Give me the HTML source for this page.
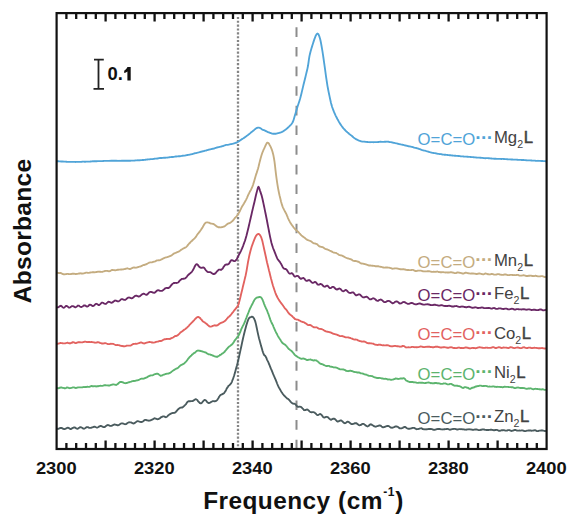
<!DOCTYPE html>
<html><head><meta charset="utf-8"><style>
html,body{margin:0;padding:0;background:#fff;width:567px;height:521px;overflow:hidden}
svg{display:block;font-family:"Liberation Sans",sans-serif}
</style></head><body>
<svg width="567" height="521" viewBox="0 0 567 521">
<rect width="567" height="521" fill="#fff"/>
<line x1="238.0" y1="16.9" x2="238.0" y2="448.0" stroke="#858585" stroke-width="2.3" stroke-dasharray="2.1,1.75"/>
<line x1="296.5" y1="27.3" x2="296.5" y2="449.0" stroke="#8c8c8c" stroke-width="2" stroke-dasharray="9.6,10.04"/>
<path d="M57.0,161.21 L57.5,161.22 L58.0,161.28 L58.5,161.20 L59.0,161.30 L59.5,161.33 L60.0,161.40 L60.5,161.40 L61.0,161.55 L61.5,161.47 L62.0,161.51 L62.5,161.52 L63.0,161.59 L63.5,161.54 L64.0,161.63 L64.5,161.64 L65.0,161.68 L65.5,161.68 L66.0,161.71 L66.5,161.77 L67.0,161.84 L67.5,161.88 L68.0,161.90 L68.5,161.93 L69.0,161.91 L69.5,161.87 L70.0,161.86 L70.5,161.86 L71.0,161.87 L71.5,161.87 L72.0,161.88 L72.5,161.87 L73.0,161.83 L73.5,161.85 L74.0,161.83 L74.5,161.85 L75.0,161.92 L75.5,161.96 L76.0,161.94 L76.5,161.94 L77.0,161.89 L77.5,161.88 L78.0,161.85 L78.5,161.82 L79.0,161.84 L79.5,161.91 L80.0,161.85 L80.5,161.85 L81.0,161.87 L81.5,161.83 L82.0,161.72 L82.5,161.69 L83.0,161.65 L83.5,161.64 L84.0,161.66 L84.5,161.71 L85.0,161.71 L85.5,161.72 L86.0,161.67 L86.5,161.66 L87.0,161.63 L87.5,161.60 L88.0,161.57 L88.5,161.57 L89.0,161.55 L89.5,161.56 L90.0,161.61 L90.5,161.54 L91.0,161.48 L91.5,161.41 L92.0,161.35 L92.5,161.29 L93.0,161.33 L93.5,161.29 L94.0,161.28 L94.5,161.28 L95.0,161.24 L95.5,161.23 L96.0,161.27 L96.5,161.25 L97.0,161.22 L97.5,161.20 L98.0,161.17 L98.5,161.16 L99.0,161.13 L99.5,161.12 L100.0,161.09 L100.5,161.10 L101.0,161.12 L101.5,161.13 L102.0,161.09 L102.5,161.05 L103.0,161.01 L103.5,160.96 L104.0,160.93 L104.5,160.93 L105.0,160.92 L105.5,160.91 L106.0,160.88 L106.5,160.91 L107.0,160.91 L107.5,160.94 L108.0,160.87 L108.5,160.88 L109.0,160.86 L109.5,160.81 L110.0,160.78 L110.5,160.80 L111.0,160.75 L111.5,160.73 L112.0,160.78 L112.5,160.76 L113.0,160.77 L113.5,160.77 L114.0,160.75 L114.5,160.68 L115.0,160.73 L115.5,160.73 L116.0,160.77 L116.5,160.75 L117.0,160.83 L117.5,160.86 L118.0,160.79 L118.5,160.83 L119.0,160.90 L119.5,160.87 L120.0,160.77 L120.5,160.85 L121.0,160.81 L121.5,160.74 L122.0,160.69 L122.5,160.74 L123.0,160.74 L123.5,160.72 L124.0,160.75 L124.5,160.75 L125.0,160.76 L125.5,160.73 L126.0,160.74 L126.5,160.71 L127.0,160.77 L127.5,160.76 L128.0,160.76 L128.5,160.77 L129.0,160.76 L129.5,160.74 L130.0,160.72 L130.5,160.71 L131.0,160.68 L131.5,160.59 L132.0,160.59 L132.5,160.64 L133.0,160.61 L133.5,160.60 L134.0,160.65 L134.5,160.59 L135.0,160.50 L135.5,160.43 L136.0,160.40 L136.5,160.35 L137.0,160.33 L137.5,160.29 L138.0,160.31 L138.5,160.29 L139.0,160.31 L139.5,160.27 L140.0,160.31 L140.5,160.20 L141.0,160.15 L141.5,160.10 L142.0,160.13 L142.5,160.01 L143.0,160.02 L143.5,159.98 L144.0,159.95 L144.5,159.81 L145.0,159.79 L145.5,159.73 L146.0,159.64 L146.5,159.56 L147.0,159.53 L147.5,159.49 L148.0,159.45 L148.5,159.41 L149.0,159.36 L149.5,159.30 L150.0,159.21 L150.5,159.16 L151.0,159.15 L151.5,159.09 L152.0,159.09 L152.5,159.06 L153.0,159.02 L153.5,158.89 L154.0,158.84 L154.5,158.74 L155.0,158.68 L155.5,158.64 L156.0,158.62 L156.5,158.58 L157.0,158.50 L157.5,158.49 L158.0,158.37 L158.5,158.28 L159.0,158.15 L159.5,158.10 L160.0,157.95 L160.5,158.00 L161.0,158.00 L161.5,157.96 L162.0,157.97 L162.5,157.94 L163.0,157.80 L163.5,157.78 L164.0,157.80 L164.5,157.70 L165.0,157.71 L165.5,157.71 L166.0,157.68 L166.5,157.63 L167.0,157.64 L167.5,157.55 L168.0,157.47 L168.5,157.44 L169.0,157.36 L169.5,157.26 L170.0,157.19 L170.5,157.17 L171.0,157.05 L171.5,157.03 L172.0,157.00 L172.5,157.03 L173.0,156.98 L173.5,156.89 L174.0,156.80 L174.5,156.71 L175.0,156.55 L175.5,156.53 L176.0,156.50 L176.5,156.48 L177.0,156.45 L177.5,156.40 L178.0,156.30 L178.5,156.28 L179.0,156.25 L179.5,156.18 L180.0,156.22 L180.5,156.14 L181.0,156.05 L181.5,155.96 L182.0,155.82 L182.5,155.76 L183.0,155.74 L183.5,155.65 L184.0,155.64 L184.5,155.66 L185.0,155.54 L185.5,155.43 L186.0,155.38 L186.5,155.18 L187.0,155.10 L187.5,154.98 L188.0,154.90 L188.5,154.83 L189.0,154.78 L189.5,154.66 L190.0,154.56 L190.5,154.42 L191.0,154.30 L191.5,154.22 L192.0,154.11 L192.5,154.01 L193.0,153.89 L193.5,153.72 L194.0,153.51 L194.5,153.40 L195.0,153.24 L195.5,153.18 L196.0,153.06 L196.5,152.97 L197.0,152.81 L197.5,152.71 L198.0,152.55 L198.5,152.45 L199.0,152.33 L199.5,152.21 L200.0,152.02 L200.5,151.89 L201.0,151.74 L201.5,151.61 L202.0,151.49 L202.5,151.37 L203.0,151.24 L203.5,151.10 L204.0,150.99 L204.5,150.86 L205.0,150.72 L205.5,150.61 L206.0,150.55 L206.5,150.36 L207.0,150.18 L207.5,150.05 L208.0,149.89 L208.5,149.75 L209.0,149.66 L209.5,149.53 L210.0,149.45 L210.5,149.31 L211.0,149.16 L211.5,149.03 L212.0,148.96 L212.5,148.79 L213.0,148.77 L213.5,148.63 L214.0,148.51 L214.5,148.33 L215.0,148.19 L215.5,147.94 L216.0,147.78 L216.5,147.61 L217.0,147.48 L217.5,147.35 L218.0,147.26 L218.5,147.16 L219.0,147.03 L219.5,146.92 L220.0,146.81 L220.5,146.69 L221.0,146.54 L221.5,146.47 L222.0,146.27 L222.5,146.14 L223.0,146.02 L223.5,145.85 L224.0,145.63 L224.5,145.47 L225.0,145.28 L225.5,145.05 L226.0,144.95 L226.5,144.93 L227.0,144.87 L227.5,144.85 L228.0,144.80 L228.5,144.70 L229.0,144.56 L229.5,144.46 L230.0,144.35 L230.5,144.21 L231.0,144.13 L231.5,144.05 L232.0,143.93 L232.5,143.82 L233.0,143.71 L233.5,143.54 L234.0,143.38 L234.5,143.24 L235.0,143.06 L235.5,142.91 L236.0,142.75 L236.5,142.59 L237.0,142.31 L237.5,142.08 L238.0,141.80 L238.5,141.53 L239.0,141.19 L239.5,140.82 L240.0,140.47 L240.5,140.14 L241.0,139.77 L241.5,139.40 L242.0,139.17 L242.5,138.81 L243.0,138.52 L243.5,138.20 L244.0,137.94 L244.5,137.55 L245.0,137.17 L245.5,136.79 L246.0,136.45 L246.5,136.04 L247.0,135.66 L247.5,135.34 L248.0,134.97 L248.5,134.55 L249.0,134.15 L249.5,133.78 L250.0,133.36 L250.5,132.91 L251.0,132.45 L251.5,132.09 L252.0,131.67 L252.5,131.31 L253.0,130.90 L253.5,130.56 L254.0,130.02 L254.5,129.62 L255.0,129.18 L255.5,128.87 L256.0,128.43 L256.5,128.17 L257.0,127.89 L257.5,127.75 L258.0,127.58 L258.5,127.63 L259.0,127.66 L259.5,127.79 L260.0,127.97 L260.5,128.27 L261.0,128.53 L261.5,128.95 L262.0,129.33 L262.5,129.62 L263.0,129.81 L263.5,130.05 L264.0,130.21 L264.5,130.41 L265.0,130.64 L265.5,130.87 L266.0,131.14 L266.5,131.43 L267.0,131.60 L267.5,131.79 L268.0,132.12 L268.5,132.34 L269.0,132.47 L269.5,132.69 L270.0,132.90 L270.5,133.01 L271.0,133.22 L271.5,133.42 L272.0,133.56 L272.5,133.65 L273.0,133.77 L273.5,133.77 L274.0,133.77 L274.5,133.77 L275.0,133.78 L275.5,133.75 L276.0,133.71 L276.5,133.57 L277.0,133.42 L277.5,133.34 L278.0,133.17 L278.5,133.05 L279.0,132.96 L279.5,132.88 L280.0,132.67 L280.5,132.53 L281.0,132.30 L281.5,132.14 L282.0,131.89 L282.5,131.62 L283.0,131.34 L283.5,131.04 L284.0,130.69 L284.5,130.38 L285.0,130.06 L285.5,129.65 L286.0,129.28 L286.5,128.86 L287.0,128.43 L287.5,128.01 L288.0,127.55 L288.5,127.06 L289.0,126.60 L289.5,126.11 L290.0,125.60 L290.5,125.07 L291.0,124.59 L291.5,124.02 L292.0,123.31 L292.5,122.52 L293.0,121.49 L293.5,120.14 L294.0,118.49 L294.5,116.81 L295.0,115.10 L295.5,113.42 L296.0,111.78 L296.5,110.12 L297.0,108.48 L297.5,106.83 L298.0,105.29 L298.5,103.71 L299.0,102.21 L299.5,100.67 L300.0,99.01 L300.5,97.18 L301.0,95.26 L301.5,93.24 L302.0,91.10 L302.5,88.98 L303.0,86.88 L303.5,84.83 L304.0,82.81 L304.5,80.74 L305.0,78.67 L305.5,76.70 L306.0,74.65 L306.5,72.56 L307.0,70.48 L307.5,68.35 L308.0,65.79 L308.5,62.49 L309.0,58.94 L309.5,55.91 L310.0,53.74 L310.5,51.81 L311.0,50.02 L311.5,48.29 L312.0,46.63 L312.5,45.00 L313.0,43.45 L313.5,41.85 L314.0,40.34 L314.5,38.92 L315.0,37.57 L315.5,36.25 L316.0,35.20 L316.5,34.37 L317.0,33.79 L317.5,33.55 L318.0,33.74 L318.5,34.40 L319.0,35.54 L319.5,36.93 L320.0,38.56 L320.5,40.55 L321.0,42.99 L321.5,45.72 L322.0,48.64 L322.5,51.70 L323.0,54.92 L323.5,58.26 L324.0,61.76 L324.5,65.29 L325.0,68.86 L325.5,72.62 L326.0,76.27 L326.5,79.69 L327.0,82.92 L327.5,86.06 L328.0,88.79 L328.5,91.33 L329.0,93.77 L329.5,96.18 L330.0,98.48 L330.5,100.77 L331.0,102.95 L331.5,104.87 L332.0,106.58 L332.5,107.95 L333.0,109.34 L333.5,110.66 L334.0,111.92 L334.5,113.10 L335.0,114.23 L335.5,115.30 L336.0,116.31 L336.5,117.29 L337.0,118.24 L337.5,119.20 L338.0,120.03 L338.5,121.01 L339.0,121.92 L339.5,122.75 L340.0,123.55 L340.5,124.42 L341.0,125.07 L341.5,125.80 L342.0,126.48 L342.5,127.20 L343.0,127.81 L343.5,128.43 L344.0,128.99 L344.5,129.52 L345.0,129.99 L345.5,130.54 L346.0,131.04 L346.5,131.50 L347.0,131.93 L347.5,132.39 L348.0,132.83 L348.5,133.23 L349.0,133.72 L349.5,134.14 L350.0,134.56 L350.5,134.86 L351.0,135.25 L351.5,135.60 L352.0,136.04 L352.5,136.49 L353.0,136.95 L353.5,137.40 L354.0,137.80 L354.5,138.18 L355.0,138.47 L355.5,138.85 L356.0,139.10 L356.5,139.41 L357.0,139.64 L357.5,139.92 L358.0,140.09 L358.5,140.34 L359.0,140.55 L359.5,140.77 L360.0,140.91 L360.5,141.14 L361.0,141.28 L361.5,141.40 L362.0,141.51 L362.5,141.60 L363.0,141.57 L363.5,141.60 L364.0,141.67 L364.5,141.67 L365.0,141.77 L365.5,141.86 L366.0,141.94 L366.5,141.89 L367.0,141.99 L367.5,142.00 L368.0,142.08 L368.5,142.10 L369.0,142.20 L369.5,142.18 L370.0,142.22 L370.5,142.17 L371.0,142.15 L371.5,142.16 L372.0,142.17 L372.5,142.15 L373.0,142.19 L373.5,142.23 L374.0,142.18 L374.5,142.19 L375.0,142.15 L375.5,142.12 L376.0,142.11 L376.5,142.14 L377.0,142.06 L377.5,142.09 L378.0,142.04 L378.5,142.00 L379.0,141.88 L379.5,141.85 L380.0,141.78 L380.5,141.77 L381.0,141.77 L381.5,141.83 L382.0,141.88 L382.5,141.91 L383.0,141.89 L383.5,141.83 L384.0,141.82 L384.5,141.77 L385.0,141.73 L385.5,141.70 L386.0,141.72 L386.5,141.62 L387.0,141.62 L387.5,141.63 L388.0,141.73 L388.5,141.76 L389.0,141.89 L389.5,142.00 L390.0,142.07 L390.5,142.14 L391.0,142.19 L391.5,142.29 L392.0,142.36 L392.5,142.52 L393.0,142.58 L393.5,142.75 L394.0,142.86 L394.5,142.95 L395.0,143.04 L395.5,143.19 L396.0,143.30 L396.5,143.37 L397.0,143.45 L397.5,143.63 L398.0,143.79 L398.5,143.85 L399.0,144.01 L399.5,144.18 L400.0,144.25 L400.5,144.31 L401.0,144.44 L401.5,144.54 L402.0,144.63 L402.5,144.73 L403.0,144.83 L403.5,144.97 L404.0,145.13 L404.5,145.29 L405.0,145.37 L405.5,145.48 L406.0,145.58 L406.5,145.71 L407.0,145.78 L407.5,145.98 L408.0,146.10 L408.5,146.24 L409.0,146.28 L409.5,146.44 L410.0,146.51 L410.5,146.60 L411.0,146.70 L411.5,146.79 L412.0,146.87 L412.5,147.01 L413.0,147.18 L413.5,147.36 L414.0,147.55 L414.5,147.70 L415.0,147.83 L415.5,147.95 L416.0,147.98 L416.5,148.16 L417.0,148.27 L417.5,148.41 L418.0,148.52 L418.5,148.75 L419.0,148.88 L419.5,149.05 L420.0,149.20 L420.5,149.43 L421.0,149.61 L421.5,149.79 L422.0,150.05 L422.5,150.20 L423.0,150.32 L423.5,150.42 L424.0,150.57 L424.5,150.60 L425.0,150.69 L425.5,150.82 L426.0,151.00 L426.5,151.17 L427.0,151.29 L427.5,151.49 L428.0,151.66 L428.5,151.77 L429.0,151.88 L429.5,152.05 L430.0,152.20 L430.5,152.30 L431.0,152.48 L431.5,152.57 L432.0,152.72 L432.5,152.80 L433.0,152.95 L433.5,152.98 L434.0,153.05 L434.5,153.09 L435.0,153.20 L435.5,153.27 L436.0,153.43 L436.5,153.51 L437.0,153.59 L437.5,153.73 L438.0,153.84 L438.5,153.82 L439.0,153.95 L439.5,154.06 L440.0,154.03 L440.5,154.07 L441.0,154.20 L441.5,154.28 L442.0,154.37 L442.5,154.51 L443.0,154.62 L443.5,154.68 L444.0,154.70 L444.5,154.70 L445.0,154.77 L445.5,154.74 L446.0,154.83 L446.5,154.88 L447.0,154.95 L447.5,155.00 L448.0,155.15 L448.5,155.12 L449.0,155.18 L449.5,155.24 L450.0,155.25 L450.5,155.28 L451.0,155.32 L451.5,155.40 L452.0,155.46 L452.5,155.52 L453.0,155.57 L453.5,155.64 L454.0,155.70 L454.5,155.71 L455.0,155.77 L455.5,155.77 L456.0,155.88 L456.5,155.91 L457.0,155.93 L457.5,155.94 L458.0,155.99 L458.5,156.00 L459.0,156.00 L459.5,156.14 L460.0,156.19 L460.5,156.28 L461.0,156.31 L461.5,156.35 L462.0,156.33 L462.5,156.35 L463.0,156.42 L463.5,156.48 L464.0,156.59 L464.5,156.62 L465.0,156.67 L465.5,156.63 L466.0,156.67 L466.5,156.70 L467.0,156.75 L467.5,156.77 L468.0,156.78 L468.5,156.81 L469.0,156.84 L469.5,156.89 L470.0,156.95 L470.5,157.00 L471.0,157.04 L471.5,157.08 L472.0,157.10 L472.5,157.14 L473.0,157.19 L473.5,157.25 L474.0,157.26 L474.5,157.30 L475.0,157.35 L475.5,157.41 L476.0,157.47 L476.5,157.54 L477.0,157.59 L477.5,157.57 L478.0,157.60 L478.5,157.66 L479.0,157.65 L479.5,157.64 L480.0,157.72 L480.5,157.77 L481.0,157.75 L481.5,157.80 L482.0,157.86 L482.5,157.94 L483.0,157.96 L483.5,158.06 L484.0,158.14 L484.5,158.18 L485.0,158.21 L485.5,158.21 L486.0,158.14 L486.5,158.15 L487.0,158.19 L487.5,158.17 L488.0,158.19 L488.5,158.25 L489.0,158.28 L489.5,158.29 L490.0,158.38 L490.5,158.43 L491.0,158.50 L491.5,158.47 L492.0,158.56 L492.5,158.62 L493.0,158.65 L493.5,158.66 L494.0,158.76 L494.5,158.71 L495.0,158.70 L495.5,158.75 L496.0,158.77 L496.5,158.81 L497.0,158.86 L497.5,158.88 L498.0,158.86 L498.5,158.86 L499.0,158.84 L499.5,158.91 L500.0,158.94 L500.5,158.95 L501.0,159.00 L501.5,159.03 L502.0,158.91 L502.5,158.94 L503.0,158.94 L503.5,158.97 L504.0,158.97 L504.5,159.04 L505.0,159.06 L505.5,159.08 L506.0,159.08 L506.5,159.13 L507.0,159.22 L507.5,159.25 L508.0,159.31 L508.5,159.32 L509.0,159.40 L509.5,159.38 L510.0,159.44 L510.5,159.45 L511.0,159.53 L511.5,159.53 L512.0,159.54 L512.5,159.52 L513.0,159.58 L513.5,159.59 L514.0,159.58 L514.5,159.65 L515.0,159.65 L515.5,159.62 L516.0,159.65 L516.5,159.67 L517.0,159.73 L517.5,159.78 L518.0,159.82 L518.5,159.81 L519.0,159.85 L519.5,159.80 L520.0,159.83 L520.5,159.87 L521.0,159.95 L521.5,160.01 L522.0,160.03 L522.5,160.04 L523.0,160.08 L523.5,160.01 L524.0,160.04 L524.5,160.12 L525.0,160.17 L525.5,160.19 L526.0,160.30 L526.5,160.29 L527.0,160.32 L527.5,160.37 L528.0,160.42 L528.5,160.37 L529.0,160.39 L529.5,160.41 L530.0,160.42 L530.5,160.41 L531.0,160.47 L531.5,160.51 L532.0,160.54 L532.5,160.55 L533.0,160.59 L533.5,160.61 L534.0,160.66 L534.5,160.68 L535.0,160.70 L535.5,160.79 L536.0,160.83 L536.5,160.84 L537.0,160.85 L537.5,160.82 L538.0,160.78 L538.5,160.80 L539.0,160.81 L539.5,160.83 L540.0,160.91 L540.5,160.95 L541.0,160.98 L541.5,161.01 L542.0,161.03 L542.5,160.98 L543.0,161.08 L543.5,161.11 L544.0,161.06 L544.5,161.11 L545.0,161.21 L545.5,161.20 L546.0,161.22" fill="none" stroke="#50a4d8" stroke-width="1.85" stroke-linejoin="round"/>
<path d="M57.0,272.54 L57.5,272.88 L58.0,272.92 L58.5,272.98 L59.0,273.06 L59.5,273.12 L60.0,272.92 L60.5,273.00 L61.0,273.16 L61.5,273.41 L62.0,273.68 L62.5,273.88 L63.0,274.19 L63.5,274.28 L64.0,274.22 L64.5,274.34 L65.0,274.33 L65.5,274.21 L66.0,274.08 L66.5,273.98 L67.0,273.86 L67.5,273.84 L68.0,273.87 L68.5,274.00 L69.0,274.08 L69.5,274.06 L70.0,274.06 L70.5,274.05 L71.0,273.96 L71.5,274.02 L72.0,273.78 L72.5,273.75 L73.0,273.69 L73.5,273.77 L74.0,273.68 L74.5,273.87 L75.0,273.96 L75.5,274.05 L76.0,273.98 L76.5,273.98 L77.0,273.83 L77.5,273.83 L78.0,273.74 L78.5,273.58 L79.0,273.45 L79.5,273.52 L80.0,273.34 L80.5,273.29 L81.0,273.47 L81.5,273.49 L82.0,273.51 L82.5,273.57 L83.0,273.54 L83.5,273.44 L84.0,273.27 L84.5,273.17 L85.0,273.05 L85.5,272.78 L86.0,272.62 L86.5,272.67 L87.0,272.70 L87.5,272.78 L88.0,272.84 L88.5,272.90 L89.0,272.83 L89.5,272.65 L90.0,272.53 L90.5,272.56 L91.0,272.34 L91.5,272.31 L92.0,272.29 L92.5,272.23 L93.0,272.12 L93.5,272.34 L94.0,272.16 L94.5,272.24 L95.0,272.30 L95.5,272.20 L96.0,271.98 L96.5,272.02 L97.0,271.91 L97.5,271.79 L98.0,271.77 L98.5,271.59 L99.0,271.66 L99.5,271.71 L100.0,271.65 L100.5,271.77 L101.0,271.95 L101.5,271.91 L102.0,271.80 L102.5,271.84 L103.0,271.56 L103.5,271.45 L104.0,271.27 L104.5,271.10 L105.0,270.98 L105.5,270.89 L106.0,270.90 L106.5,270.95 L107.0,270.94 L107.5,270.95 L108.0,271.13 L108.5,271.21 L109.0,271.25 L109.5,271.24 L110.0,271.01 L110.5,270.83 L111.0,270.47 L111.5,270.17 L112.0,270.00 L112.5,269.98 L113.0,270.02 L113.5,270.05 L114.0,270.10 L114.5,270.15 L115.0,270.39 L115.5,270.28 L116.0,270.17 L116.5,270.12 L117.0,270.02 L117.5,269.70 L118.0,269.71 L118.5,269.75 L119.0,269.69 L119.5,269.62 L120.0,269.68 L120.5,269.54 L121.0,269.50 L121.5,269.46 L122.0,269.47 L122.5,269.41 L123.0,269.45 L123.5,269.41 L124.0,269.19 L124.5,269.16 L125.0,268.99 L125.5,268.87 L126.0,268.60 L126.5,268.62 L127.0,268.44 L127.5,268.28 L128.0,268.54 L128.5,268.74 L129.0,268.90 L129.5,268.96 L130.0,269.10 L130.5,268.81 L131.0,268.64 L131.5,268.34 L132.0,268.18 L132.5,267.81 L133.0,267.65 L133.5,267.53 L134.0,267.54 L134.5,267.50 L135.0,267.76 L135.5,267.70 L136.0,267.59 L136.5,267.57 L137.0,267.51 L137.5,267.21 L138.0,267.09 L138.5,267.03 L139.0,266.75 L139.5,266.56 L140.0,266.68 L140.5,266.48 L141.0,266.31 L141.5,265.97 L142.0,265.81 L142.5,265.45 L143.0,265.26 L143.5,264.99 L144.0,265.04 L144.5,264.85 L145.0,264.58 L145.5,264.47 L146.0,264.38 L146.5,264.09 L147.0,263.79 L147.5,263.58 L148.0,263.28 L148.5,262.99 L149.0,262.67 L149.5,262.53 L150.0,262.42 L150.5,262.33 L151.0,262.31 L151.5,262.42 L152.0,262.32 L152.5,262.17 L153.0,261.94 L153.5,261.85 L154.0,261.64 L154.5,261.55 L155.0,261.46 L155.5,261.30 L156.0,260.88 L156.5,260.65 L157.0,260.44 L157.5,260.35 L158.0,260.34 L158.5,260.28 L159.0,260.30 L159.5,260.30 L160.0,260.04 L160.5,259.86 L161.0,259.66 L161.5,259.45 L162.0,259.15 L162.5,258.87 L163.0,258.55 L163.5,258.40 L164.0,258.06 L164.5,257.84 L165.0,257.73 L165.5,257.52 L166.0,257.31 L166.5,257.35 L167.0,257.21 L167.5,257.00 L168.0,256.93 L168.5,256.72 L169.0,256.47 L169.5,256.27 L170.0,256.16 L170.5,255.93 L171.0,255.73 L171.5,255.39 L172.0,255.05 L172.5,254.61 L173.0,254.18 L173.5,253.86 L174.0,253.39 L174.5,253.30 L175.0,253.05 L175.5,252.95 L176.0,252.72 L176.5,252.57 L177.0,252.23 L177.5,252.08 L178.0,251.79 L178.5,251.61 L179.0,251.36 L179.5,251.03 L180.0,250.71 L180.5,250.32 L181.0,249.90 L181.5,249.65 L182.0,249.32 L182.5,249.01 L183.0,248.61 L183.5,248.38 L184.0,248.12 L184.5,247.83 L185.0,247.55 L185.5,247.51 L186.0,247.12 L186.5,246.71 L187.0,246.19 L187.5,245.60 L188.0,244.91 L188.5,244.31 L189.0,243.73 L189.5,243.21 L190.0,242.76 L190.5,242.21 L191.0,241.71 L191.5,241.21 L192.0,240.75 L192.5,240.25 L193.0,239.82 L193.5,239.38 L194.0,238.93 L194.5,238.48 L195.0,237.93 L195.5,237.27 L196.0,236.71 L196.5,235.85 L197.0,234.95 L197.5,234.29 L198.0,233.73 L198.5,233.03 L199.0,232.52 L199.5,231.90 L200.0,231.12 L200.5,230.49 L201.0,229.81 L201.5,228.97 L202.0,228.39 L202.5,227.55 L203.0,226.56 L203.5,225.67 L204.0,224.84 L204.5,223.95 L205.0,223.38 L205.5,222.88 L206.0,222.56 L206.5,222.46 L207.0,222.34 L207.5,222.33 L208.0,222.48 L208.5,222.57 L209.0,222.65 L209.5,222.95 L210.0,223.24 L210.5,223.35 L211.0,223.57 L211.5,223.66 L212.0,223.66 L212.5,223.79 L213.0,223.95 L213.5,224.01 L214.0,224.35 L214.5,224.72 L215.0,225.05 L215.5,225.37 L216.0,225.77 L216.5,226.34 L217.0,226.69 L217.5,226.77 L218.0,227.08 L218.5,227.26 L219.0,227.21 L219.5,227.25 L220.0,227.35 L220.5,227.40 L221.0,227.38 L221.5,227.11 L222.0,227.09 L222.5,227.04 L223.0,226.90 L223.5,226.67 L224.0,226.63 L224.5,226.31 L225.0,226.03 L225.5,225.56 L226.0,225.14 L226.5,224.66 L227.0,224.29 L227.5,223.91 L228.0,223.69 L228.5,223.46 L229.0,223.26 L229.5,223.14 L230.0,222.90 L230.5,222.58 L231.0,222.23 L231.5,221.86 L232.0,221.42 L232.5,220.97 L233.0,220.51 L233.5,219.92 L234.0,219.23 L234.5,218.56 L235.0,217.86 L235.5,217.36 L236.0,216.95 L236.5,216.37 L237.0,215.72 L237.5,215.12 L238.0,214.23 L238.5,213.33 L239.0,212.59 L239.5,211.75 L240.0,210.78 L240.5,209.66 L241.0,208.70 L241.5,207.64 L242.0,206.69 L242.5,205.81 L243.0,205.10 L243.5,204.27 L244.0,203.44 L244.5,202.49 L245.0,201.66 L245.5,200.84 L246.0,199.87 L246.5,198.83 L247.0,197.84 L247.5,196.72 L248.0,195.39 L248.5,194.33 L249.0,193.46 L249.5,192.44 L250.0,191.42 L250.5,190.59 L251.0,189.71 L251.5,188.61 L252.0,187.50 L252.5,186.39 L253.0,185.00 L253.5,183.36 L254.0,181.66 L254.5,179.95 L255.0,178.16 L255.5,176.51 L256.0,174.83 L256.5,173.43 L257.0,171.91 L257.5,170.33 L258.0,168.64 L258.5,166.75 L259.0,164.67 L259.5,162.64 L260.0,160.72 L260.5,158.67 L261.0,157.04 L261.5,155.31 L262.0,153.80 L262.5,152.28 L263.0,151.16 L263.5,149.91 L264.0,148.92 L264.5,147.80 L265.0,146.72 L265.5,145.55 L266.0,144.60 L266.5,143.61 L267.0,142.89 L267.5,142.63 L268.0,142.77 L268.5,143.03 L269.0,143.74 L269.5,144.70 L270.0,145.60 L270.5,146.51 L271.0,147.72 L271.5,148.91 L272.0,150.17 L272.5,151.78 L273.0,153.66 L273.5,155.83 L274.0,158.51 L274.5,161.62 L275.0,165.64 L275.5,170.10 L276.0,174.43 L276.5,178.15 L277.0,181.63 L277.5,184.82 L278.0,187.85 L278.5,190.48 L279.0,192.96 L279.5,195.21 L280.0,197.23 L280.5,199.30 L281.0,201.51 L281.5,203.26 L282.0,204.92 L282.5,206.36 L283.0,207.60 L283.5,208.59 L284.0,209.64 L284.5,210.62 L285.0,211.57 L285.5,212.47 L286.0,213.44 L286.5,214.47 L287.0,215.70 L287.5,216.75 L288.0,218.12 L288.5,219.25 L289.0,220.32 L289.5,221.14 L290.0,222.18 L290.5,222.92 L291.0,223.64 L291.5,224.44 L292.0,225.20 L292.5,225.81 L293.0,226.46 L293.5,227.30 L294.0,227.85 L294.5,228.37 L295.0,229.01 L295.5,229.52 L296.0,229.96 L296.5,230.36 L297.0,230.82 L297.5,231.31 L298.0,231.65 L298.5,232.12 L299.0,232.75 L299.5,233.39 L300.0,233.81 L300.5,234.59 L301.0,234.98 L301.5,235.44 L302.0,235.80 L302.5,236.31 L303.0,236.53 L303.5,236.98 L304.0,237.33 L304.5,237.71 L305.0,238.03 L305.5,238.52 L306.0,238.93 L306.5,239.26 L307.0,239.72 L307.5,240.03 L308.0,240.11 L308.5,240.29 L309.0,240.49 L309.5,240.71 L310.0,240.86 L310.5,241.02 L311.0,241.34 L311.5,241.69 L312.0,242.01 L312.5,242.43 L313.0,242.81 L313.5,243.07 L314.0,243.31 L314.5,243.37 L315.0,243.47 L315.5,243.58 L316.0,243.78 L316.5,243.98 L317.0,244.21 L317.5,244.60 L318.0,245.22 L318.5,245.54 L319.0,246.10 L319.5,246.36 L320.0,246.63 L320.5,246.68 L321.0,246.88 L321.5,246.81 L322.0,247.03 L322.5,247.10 L323.0,247.29 L323.5,247.56 L324.0,248.07 L324.5,248.40 L325.0,248.76 L325.5,248.99 L326.0,249.09 L326.5,249.26 L327.0,249.40 L327.5,249.50 L328.0,249.73 L328.5,250.07 L329.0,250.12 L329.5,250.51 L330.0,250.77 L330.5,250.92 L331.0,251.18 L331.5,251.50 L332.0,251.64 L332.5,251.92 L333.0,252.25 L333.5,252.54 L334.0,252.63 L334.5,252.69 L335.0,252.83 L335.5,252.86 L336.0,252.92 L336.5,253.20 L337.0,253.50 L337.5,253.74 L338.0,254.15 L338.5,254.55 L339.0,254.84 L339.5,255.07 L340.0,255.22 L340.5,255.40 L341.0,255.39 L341.5,255.40 L342.0,255.61 L342.5,255.81 L343.0,256.06 L343.5,256.32 L344.0,256.64 L344.5,256.93 L345.0,257.20 L345.5,257.49 L346.0,257.76 L346.5,257.96 L347.0,258.13 L347.5,258.29 L348.0,258.50 L348.5,258.53 L349.0,258.70 L349.5,258.84 L350.0,259.00 L350.5,259.05 L351.0,259.32 L351.5,259.60 L352.0,259.90 L352.5,260.30 L353.0,260.62 L353.5,260.83 L354.0,260.95 L354.5,261.01 L355.0,260.99 L355.5,260.89 L356.0,261.05 L356.5,261.18 L357.0,261.35 L357.5,261.48 L358.0,261.73 L358.5,261.77 L359.0,262.04 L359.5,262.38 L360.0,262.78 L360.5,263.09 L361.0,263.36 L361.5,263.48 L362.0,263.51 L362.5,263.57 L363.0,263.67 L363.5,263.78 L364.0,263.85 L364.5,264.01 L365.0,264.15 L365.5,264.27 L366.0,264.35 L366.5,264.53 L367.0,264.76 L367.5,264.92 L368.0,265.15 L368.5,265.38 L369.0,265.49 L369.5,265.51 L370.0,265.54 L370.5,265.48 L371.0,265.57 L371.5,265.67 L372.0,265.76 L372.5,265.69 L373.0,265.75 L373.5,265.81 L374.0,265.86 L374.5,265.82 L375.0,266.18 L375.5,266.27 L376.0,266.38 L376.5,266.28 L377.0,266.37 L377.5,266.24 L378.0,266.22 L378.5,266.23 L379.0,266.55 L379.5,266.55 L380.0,266.56 L380.5,266.84 L381.0,266.95 L381.5,266.91 L382.0,267.05 L382.5,267.31 L383.0,267.34 L383.5,267.51 L384.0,267.54 L384.5,267.65 L385.0,267.57 L385.5,267.51 L386.0,267.44 L386.5,267.53 L387.0,267.48 L387.5,267.51 L388.0,267.55 L388.5,267.63 L389.0,267.68 L389.5,267.78 L390.0,267.92 L390.5,268.08 L391.0,268.21 L391.5,268.42 L392.0,268.65 L392.5,268.73 L393.0,268.69 L393.5,268.64 L394.0,268.50 L394.5,268.33 L395.0,268.30 L395.5,268.37 L396.0,268.42 L396.5,268.45 L397.0,268.48 L397.5,268.63 L398.0,268.69 L398.5,268.85 L399.0,268.97 L399.5,269.16 L400.0,269.08 L400.5,269.33 L401.0,269.24 L401.5,269.30 L402.0,269.27 L402.5,269.34 L403.0,269.23 L403.5,269.26 L404.0,269.29 L404.5,269.48 L405.0,269.49 L405.5,269.64 L406.0,269.89 L406.5,269.94 L407.0,270.02 L407.5,270.15 L408.0,270.01 L408.5,269.90 L409.0,270.05 L409.5,270.07 L410.0,270.10 L410.5,270.15 L411.0,270.13 L411.5,270.02 L412.0,269.92 L412.5,269.81 L413.0,269.92 L413.5,270.05 L414.0,270.37 L414.5,270.60 L415.0,270.89 L415.5,271.02 L416.0,271.14 L416.5,270.99 L417.0,270.82 L417.5,270.76 L418.0,270.69 L418.5,270.62 L419.0,270.56 L419.5,270.59 L420.0,270.59 L420.5,270.62 L421.0,270.69 L421.5,270.81 L422.0,271.01 L422.5,271.08 L423.0,271.26 L423.5,271.33 L424.0,271.34 L424.5,271.36 L425.0,271.46 L425.5,271.31 L426.0,271.32 L426.5,271.33 L427.0,271.31 L427.5,271.18 L428.0,271.24 L428.5,271.23 L429.0,271.26 L429.5,271.29 L430.0,271.42 L430.5,271.54 L431.0,271.62 L431.5,271.80 L432.0,271.90 L432.5,271.91 L433.0,271.81 L433.5,271.76 L434.0,271.70 L434.5,271.80 L435.0,271.87 L435.5,271.86 L436.0,271.72 L436.5,271.72 L437.0,271.60 L437.5,271.54 L438.0,271.75 L438.5,272.01 L439.0,272.07 L439.5,272.04 L440.0,272.27 L440.5,272.26 L441.0,272.24 L441.5,272.16 L442.0,272.21 L442.5,272.15 L443.0,272.11 L443.5,272.21 L444.0,272.33 L444.5,272.40 L445.0,272.44 L445.5,272.52 L446.0,272.39 L446.5,272.40 L447.0,272.52 L447.5,272.47 L448.0,272.47 L448.5,272.49 L449.0,272.62 L449.5,272.43 L450.0,272.35 L450.5,272.24 L451.0,272.34 L451.5,272.28 L452.0,272.35 L452.5,272.53 L453.0,272.63 L453.5,272.68 L454.0,272.92 L454.5,273.13 L455.0,273.17 L455.5,273.18 L456.0,273.15 L456.5,272.82 L457.0,272.52 L457.5,272.48 L458.0,272.54 L458.5,272.53 L459.0,272.68 L459.5,272.76 L460.0,272.90 L460.5,272.90 L461.0,273.05 L461.5,273.13 L462.0,273.42 L462.5,273.51 L463.0,273.62 L463.5,273.52 L464.0,273.34 L464.5,273.19 L465.0,272.91 L465.5,272.73 L466.0,272.73 L466.5,272.89 L467.0,272.94 L467.5,273.04 L468.0,273.28 L468.5,273.33 L469.0,273.27 L469.5,273.45 L470.0,273.54 L470.5,273.62 L471.0,273.52 L471.5,273.60 L472.0,273.41 L472.5,273.53 L473.0,273.37 L473.5,273.49 L474.0,273.55 L474.5,273.70 L475.0,273.62 L475.5,273.81 L476.0,273.97 L476.5,274.03 L477.0,274.02 L477.5,273.93 L478.0,273.72 L478.5,273.62 L479.0,273.43 L479.5,273.49 L480.0,273.58 L480.5,273.65 L481.0,273.81 L481.5,274.01 L482.0,274.10 L482.5,274.21 L483.0,274.43 L483.5,274.31 L484.0,274.09 L484.5,273.81 L485.0,273.58 L485.5,273.43 L486.0,273.55 L486.5,273.72 L487.0,273.81 L487.5,274.10 L488.0,274.23 L488.5,274.20 L489.0,274.34 L489.5,274.47 L490.0,274.32 L490.5,274.27 L491.0,274.16 L491.5,273.96 L492.0,273.88 L492.5,274.05 L493.0,274.18 L493.5,274.40 L494.0,274.57 L494.5,274.65 L495.0,274.69 L495.5,274.62 L496.0,274.55 L496.5,274.47 L497.0,274.40 L497.5,274.19 L498.0,274.17 L498.5,274.18 L499.0,274.21 L499.5,274.38 L500.0,274.61 L500.5,274.65 L501.0,274.72 L501.5,274.93 L502.0,274.87 L502.5,274.90 L503.0,274.87 L503.5,274.78 L504.0,274.60 L504.5,274.50 L505.0,274.41 L505.5,274.46 L506.0,274.53 L506.5,274.67 L507.0,274.95 L507.5,275.04 L508.0,275.08 L508.5,275.12 L509.0,275.14 L509.5,275.03 L510.0,274.88 L510.5,274.88 L511.0,274.82 L511.5,274.83 L512.0,274.90 L512.5,275.02 L513.0,275.02 L513.5,275.11 L514.0,275.15 L514.5,275.03 L515.0,275.09 L515.5,275.17 L516.0,275.11 L516.5,274.96 L517.0,274.94 L517.5,274.94 L518.0,274.96 L518.5,275.11 L519.0,275.38 L519.5,275.59 L520.0,275.66 L520.5,275.69 L521.0,275.65 L521.5,275.56 L522.0,275.54 L522.5,275.44 L523.0,275.29 L523.5,275.25 L524.0,275.36 L524.5,275.35 L525.0,275.52 L525.5,275.67 L526.0,275.99 L526.5,275.92 L527.0,276.04 L527.5,275.90 L528.0,276.09 L528.5,275.74 L529.0,275.74 L529.5,275.59 L530.0,275.76 L530.5,275.56 L531.0,275.76 L531.5,275.78 L532.0,275.96 L532.5,275.96 L533.0,276.18 L533.5,275.99 L534.0,276.05 L534.5,275.97 L535.0,275.85 L535.5,275.69 L536.0,275.91 L536.5,275.96 L537.0,276.09 L537.5,276.23 L538.0,276.35 L538.5,276.44 L539.0,276.40 L539.5,276.32 L540.0,276.30 L540.5,276.25 L541.0,276.15 L541.5,276.16 L542.0,276.06 L542.5,276.19 L543.0,276.36 L543.5,276.57 L544.0,276.74 L544.5,277.05 L545.0,277.02 L545.5,276.93 L546.0,276.78" fill="none" stroke="#c4ac80" stroke-width="1.85" stroke-linejoin="round"/>
<path d="M57.0,307.06 L57.5,307.28 L58.0,307.38 L58.5,307.13 L59.0,306.78 L59.5,306.33 L60.0,306.06 L60.5,305.83 L61.0,305.76 L61.5,306.05 L62.0,306.53 L62.5,307.09 L63.0,307.51 L63.5,307.78 L64.0,307.67 L64.5,307.28 L65.0,306.85 L65.5,306.36 L66.0,305.98 L66.5,305.87 L67.0,306.15 L67.5,306.41 L68.0,306.84 L68.5,307.28 L69.0,307.63 L69.5,307.62 L70.0,307.41 L70.5,307.11 L71.0,306.76 L71.5,306.44 L72.0,306.11 L72.5,306.06 L73.0,306.21 L73.5,306.36 L74.0,306.61 L74.5,306.98 L75.0,307.28 L75.5,307.29 L76.0,307.08 L76.5,306.77 L77.0,306.35 L77.5,305.79 L78.0,305.55 L78.5,305.62 L79.0,305.75 L79.5,306.13 L80.0,306.49 L80.5,306.80 L81.0,307.01 L81.5,307.00 L82.0,306.74 L82.5,306.50 L83.0,306.14 L83.5,305.65 L84.0,305.48 L84.5,305.35 L85.0,305.49 L85.5,305.64 L86.0,306.13 L86.5,306.41 L87.0,306.57 L87.5,306.56 L88.0,306.29 L88.5,305.77 L89.0,305.24 L89.5,304.83 L90.0,304.58 L90.5,304.78 L91.0,304.94 L91.5,305.33 L92.0,305.72 L92.5,306.04 L93.0,306.01 L93.5,305.95 L94.0,305.58 L94.5,305.15 L95.0,304.48 L95.5,304.16 L96.0,303.83 L96.5,303.80 L97.0,304.01 L97.5,304.35 L98.0,304.60 L98.5,305.00 L99.0,305.07 L99.5,304.86 L100.0,304.42 L100.5,303.91 L101.0,303.32 L101.5,302.86 L102.0,302.56 L102.5,302.66 L103.0,302.78 L103.5,303.06 L104.0,303.44 L104.5,303.72 L105.0,303.84 L105.5,303.98 L106.0,303.83 L106.5,303.33 L107.0,302.90 L107.5,302.48 L108.0,302.04 L108.5,301.77 L109.0,301.78 L109.5,301.89 L110.0,302.15 L110.5,302.39 L111.0,302.60 L111.5,302.73 L112.0,302.69 L112.5,302.45 L113.0,301.99 L113.5,301.58 L114.0,301.17 L114.5,300.85 L115.0,300.53 L115.5,300.61 L116.0,300.67 L116.5,300.88 L117.0,301.08 L117.5,301.27 L118.0,301.32 L118.5,301.32 L119.0,301.07 L119.5,300.76 L120.0,300.35 L120.5,299.82 L121.0,299.38 L121.5,299.21 L122.0,299.13 L122.5,299.19 L123.0,299.44 L123.5,299.67 L124.0,299.77 L124.5,299.93 L125.0,299.95 L125.5,299.66 L126.0,299.33 L126.5,298.93 L127.0,298.40 L127.5,298.04 L128.0,297.72 L128.5,297.58 L129.0,297.52 L129.5,297.58 L130.0,297.74 L130.5,298.05 L131.0,298.16 L131.5,298.33 L132.0,298.26 L132.5,298.04 L133.0,297.70 L133.5,297.35 L134.0,296.76 L134.5,296.37 L135.0,295.98 L135.5,295.79 L136.0,295.62 L136.5,295.72 L137.0,295.87 L137.5,296.02 L138.0,296.34 L138.5,296.53 L139.0,296.46 L139.5,296.43 L140.0,296.18 L140.5,295.65 L141.0,295.25 L141.5,294.83 L142.0,294.31 L142.5,294.03 L143.0,293.84 L143.5,293.66 L144.0,293.73 L144.5,293.94 L145.0,294.25 L145.5,294.48 L146.0,294.78 L146.5,294.87 L147.0,294.67 L147.5,294.30 L148.0,293.73 L148.5,293.11 L149.0,292.56 L149.5,292.22 L150.0,291.99 L150.5,291.93 L151.0,291.95 L151.5,292.03 L152.0,292.19 L152.5,292.38 L153.0,292.62 L153.5,292.69 L154.0,292.87 L154.5,292.78 L155.0,292.46 L155.5,292.00 L156.0,291.58 L156.5,291.02 L157.0,290.55 L157.5,290.30 L158.0,290.21 L158.5,290.28 L159.0,290.42 L159.5,290.59 L160.0,290.78 L160.5,290.89 L161.0,290.88 L161.5,290.92 L162.0,290.76 L162.5,290.58 L163.0,290.21 L163.5,289.81 L164.0,289.30 L164.5,288.91 L165.0,288.47 L165.5,288.25 L166.0,288.08 L166.5,287.95 L167.0,287.90 L167.5,287.99 L168.0,287.97 L168.5,288.01 L169.0,287.65 L169.5,287.35 L170.0,286.81 L170.5,286.21 L171.0,285.50 L171.5,285.00 L172.0,284.33 L172.5,283.75 L173.0,283.50 L173.5,283.17 L174.0,283.00 L174.5,282.96 L175.0,282.99 L175.5,282.83 L176.0,282.86 L176.5,282.98 L177.0,282.95 L177.5,282.74 L178.0,282.50 L178.5,282.14 L179.0,281.48 L179.5,280.97 L180.0,280.45 L180.5,279.93 L181.0,279.57 L181.5,279.16 L182.0,278.89 L182.5,278.81 L183.0,278.76 L183.5,278.67 L184.0,278.73 L184.5,278.58 L185.0,278.46 L185.5,278.15 L186.0,277.63 L186.5,277.13 L187.0,276.50 L187.5,275.75 L188.0,275.15 L188.5,274.78 L189.0,274.19 L189.5,273.86 L190.0,273.43 L190.5,272.96 L191.0,272.52 L191.5,272.06 L192.0,271.52 L192.5,270.82 L193.0,270.08 L193.5,269.07 L194.0,268.17 L194.5,266.95 L195.0,265.99 L195.5,265.12 L196.0,264.56 L196.5,264.18 L197.0,264.29 L197.5,264.48 L198.0,265.13 L198.5,265.88 L199.0,266.48 L199.5,266.97 L200.0,267.45 L200.5,267.69 L201.0,267.81 L201.5,267.79 L202.0,267.73 L202.5,267.63 L203.0,267.53 L203.5,267.46 L204.0,267.84 L204.5,268.24 L205.0,268.95 L205.5,269.70 L206.0,270.40 L206.5,270.94 L207.0,271.49 L207.5,271.88 L208.0,272.01 L208.5,272.09 L209.0,272.15 L209.5,272.17 L210.0,272.03 L210.5,272.25 L211.0,272.55 L211.5,272.91 L212.0,273.24 L212.5,273.67 L213.0,273.90 L213.5,273.99 L214.0,274.07 L214.5,273.91 L215.0,273.61 L215.5,273.04 L216.0,272.67 L216.5,271.97 L217.0,271.45 L217.5,270.91 L218.0,270.45 L218.5,269.88 L219.0,269.68 L219.5,269.65 L220.0,269.62 L220.5,269.75 L221.0,269.87 L221.5,269.58 L222.0,269.16 L222.5,268.73 L223.0,267.98 L223.5,267.06 L224.0,266.40 L224.5,265.70 L225.0,265.09 L225.5,264.72 L226.0,264.65 L226.5,264.45 L227.0,264.48 L227.5,264.48 L228.0,264.43 L228.5,263.99 L229.0,263.64 L229.5,262.75 L230.0,261.92 L230.5,261.07 L231.0,260.47 L231.5,260.09 L232.0,260.16 L232.5,260.30 L233.0,260.56 L233.5,260.95 L234.0,261.08 L234.5,261.14 L235.0,260.99 L235.5,260.70 L236.0,260.15 L236.5,259.60 L237.0,258.70 L237.5,257.71 L238.0,256.68 L238.5,255.66 L239.0,254.63 L239.5,253.69 L240.0,252.82 L240.5,251.79 L241.0,250.83 L241.5,249.71 L242.0,248.69 L242.5,247.32 L243.0,246.12 L243.5,244.74 L244.0,243.44 L244.5,242.05 L245.0,240.62 L245.5,238.93 L246.0,237.21 L246.5,235.46 L247.0,233.43 L247.5,231.58 L248.0,229.56 L248.5,227.44 L249.0,225.22 L249.5,223.13 L250.0,220.85 L250.5,218.67 L251.0,216.55 L251.5,214.42 L252.0,212.12 L252.5,210.01 L253.0,207.91 L253.5,205.81 L254.0,203.75 L254.5,201.71 L255.0,199.49 L255.5,197.20 L256.0,195.04 L256.5,192.98 L257.0,191.12 L257.5,189.23 L258.0,187.58 L258.5,186.73 L259.0,187.48 L259.5,188.97 L260.0,190.62 L260.5,192.13 L261.0,193.62 L261.5,195.10 L262.0,196.91 L262.5,199.00 L263.0,201.23 L263.5,203.59 L264.0,205.99 L264.5,208.41 L265.0,210.82 L265.5,213.27 L266.0,215.73 L266.5,218.26 L267.0,220.76 L267.5,223.47 L268.0,226.14 L268.5,228.69 L269.0,231.28 L269.5,233.95 L270.0,236.41 L270.5,238.66 L271.0,240.92 L271.5,243.00 L272.0,244.67 L272.5,246.22 L273.0,247.76 L273.5,249.11 L274.0,250.27 L274.5,251.60 L275.0,252.91 L275.5,254.19 L276.0,255.48 L276.5,256.72 L277.0,257.95 L277.5,258.92 L278.0,259.63 L278.5,260.31 L279.0,260.96 L279.5,261.50 L280.0,262.08 L280.5,262.93 L281.0,263.71 L281.5,264.63 L282.0,265.64 L282.5,266.63 L283.0,267.40 L283.5,268.15 L284.0,268.63 L284.5,268.82 L285.0,268.94 L285.5,269.01 L286.0,269.10 L286.5,269.61 L287.0,270.18 L287.5,270.97 L288.0,271.82 L288.5,272.58 L289.0,273.15 L289.5,273.59 L290.0,273.63 L290.5,273.58 L291.0,273.42 L291.5,273.23 L292.0,273.27 L292.5,273.64 L293.0,274.25 L293.5,275.03 L294.0,275.78 L294.5,276.34 L295.0,276.59 L295.5,276.57 L296.0,276.27 L296.5,276.00 L297.0,275.80 L297.5,275.87 L298.0,276.04 L298.5,276.43 L299.0,277.06 L299.5,277.77 L300.0,278.21 L300.5,278.62 L301.0,278.92 L301.5,278.68 L302.0,278.44 L302.5,278.22 L303.0,277.98 L303.5,278.04 L304.0,278.42 L304.5,278.81 L305.0,279.53 L305.5,280.12 L306.0,280.64 L306.5,280.83 L307.0,280.89 L307.5,280.61 L308.0,280.46 L308.5,280.14 L309.0,280.04 L309.5,280.21 L310.0,280.60 L310.5,281.11 L311.0,281.69 L311.5,282.27 L312.0,282.59 L312.5,282.83 L313.0,282.79 L313.5,282.62 L314.0,282.40 L314.5,282.15 L315.0,281.93 L315.5,282.10 L316.0,282.47 L316.5,283.03 L317.0,283.68 L317.5,284.40 L318.0,284.69 L318.5,284.71 L319.0,284.59 L319.5,284.50 L320.0,284.15 L320.5,283.97 L321.0,284.05 L321.5,284.28 L322.0,284.63 L322.5,285.15 L323.0,285.77 L323.5,286.25 L324.0,286.56 L324.5,286.69 L325.0,286.71 L325.5,286.42 L326.0,286.06 L326.5,285.78 L327.0,285.60 L327.5,285.65 L328.0,286.10 L328.5,286.68 L329.0,287.34 L329.5,287.86 L330.0,288.11 L330.5,288.11 L331.0,287.93 L331.5,287.52 L332.0,287.08 L332.5,286.90 L333.0,286.86 L333.5,286.97 L334.0,287.27 L334.5,287.75 L335.0,288.22 L335.5,288.85 L336.0,289.16 L336.5,289.44 L337.0,289.58 L337.5,289.45 L338.0,289.01 L338.5,288.88 L339.0,288.58 L339.5,288.51 L340.0,288.75 L340.5,289.07 L341.0,289.48 L341.5,290.11 L342.0,290.65 L342.5,291.01 L343.0,291.28 L343.5,291.25 L344.0,290.98 L344.5,290.64 L345.0,290.30 L345.5,290.01 L346.0,290.04 L346.5,290.32 L347.0,290.76 L347.5,291.19 L348.0,291.86 L348.5,292.31 L349.0,292.66 L349.5,292.80 L350.0,292.96 L350.5,292.98 L351.0,292.81 L351.5,292.61 L352.0,292.50 L352.5,292.31 L353.0,292.32 L353.5,292.59 L354.0,293.16 L354.5,293.75 L355.0,294.42 L355.5,294.79 L356.0,295.26 L356.5,295.30 L357.0,295.15 L357.5,294.97 L358.0,294.67 L358.5,294.38 L359.0,294.32 L359.5,294.40 L360.0,294.61 L360.5,295.06 L361.0,295.59 L361.5,296.11 L362.0,296.62 L362.5,296.99 L363.0,297.35 L363.5,297.46 L364.0,297.38 L364.5,297.23 L365.0,297.10 L365.5,296.93 L366.0,296.76 L366.5,296.77 L367.0,296.90 L367.5,297.19 L368.0,297.61 L368.5,298.18 L369.0,298.67 L369.5,299.10 L370.0,299.29 L370.5,299.41 L371.0,299.25 L371.5,299.09 L372.0,298.77 L372.5,298.55 L373.0,298.25 L373.5,298.33 L374.0,298.44 L374.5,298.74 L375.0,299.10 L375.5,299.57 L376.0,299.98 L376.5,300.48 L377.0,300.70 L377.5,300.84 L378.0,300.85 L378.5,300.62 L379.0,300.16 L379.5,299.96 L380.0,299.80 L380.5,299.54 L381.0,299.56 L381.5,299.84 L382.0,300.16 L382.5,300.47 L383.0,301.15 L383.5,301.60 L384.0,301.87 L384.5,302.12 L385.0,302.19 L385.5,302.05 L386.0,301.76 L386.5,301.58 L387.0,301.18 L387.5,301.03 L388.0,300.83 L388.5,300.87 L389.0,300.91 L389.5,301.23 L390.0,301.40 L390.5,301.79 L391.0,302.20 L391.5,302.59 L392.0,302.83 L392.5,303.27 L393.0,303.22 L393.5,303.07 L394.0,302.78 L394.5,302.50 L395.0,301.85 L395.5,301.70 L396.0,301.49 L396.5,301.36 L397.0,301.37 L397.5,301.76 L398.0,302.05 L398.5,302.49 L399.0,303.04 L399.5,303.40 L400.0,303.57 L400.5,303.44 L401.0,303.34 L401.5,303.12 L402.0,302.80 L402.5,302.39 L403.0,302.19 L403.5,302.10 L404.0,301.96 L404.5,302.05 L405.0,302.33 L405.5,302.75 L406.0,302.96 L406.5,303.28 L407.0,303.51 L407.5,303.75 L408.0,303.84 L408.5,303.82 L409.0,303.78 L409.5,303.67 L410.0,303.44 L410.5,303.17 L411.0,303.01 L411.5,302.95 L412.0,302.99 L412.5,303.08 L413.0,303.29 L413.5,303.56 L414.0,303.81 L414.5,304.04 L415.0,304.29 L415.5,304.30 L416.0,304.35 L416.5,304.32 L417.0,304.09 L417.5,303.98 L418.0,303.91 L418.5,303.73 L419.0,303.46 L419.5,303.61 L420.0,303.53 L420.5,303.63 L421.0,303.87 L421.5,304.13 L422.0,304.22 L422.5,304.37 L423.0,304.51 L423.5,304.55 L424.0,304.61 L424.5,304.62 L425.0,304.55 L425.5,304.45 L426.0,304.28 L426.5,304.31 L427.0,304.30 L427.5,304.25 L428.0,304.28 L428.5,304.56 L429.0,304.51 L429.5,304.62 L430.0,304.89 L430.5,304.98 L431.0,305.00 L431.5,305.19 L432.0,305.13 L432.5,305.11 L433.0,305.04 L433.5,304.85 L434.0,304.72 L434.5,304.77 L435.0,304.71 L435.5,304.90 L436.0,305.00 L436.5,305.08 L437.0,305.15 L437.5,305.35 L438.0,305.44 L438.5,305.61 L439.0,305.58 L439.5,305.61 L440.0,305.51 L440.5,305.29 L441.0,305.13 L441.5,305.21 L442.0,305.25 L442.5,305.30 L443.0,305.54 L443.5,305.74 L444.0,305.86 L444.5,305.96 L445.0,306.00 L445.5,306.02 L446.0,305.99 L446.5,306.08 L447.0,306.03 L447.5,306.00 L448.0,305.92 L448.5,305.89 L449.0,305.73 L449.5,305.79 L450.0,305.89 L450.5,306.09 L451.0,306.20 L451.5,306.39 L452.0,306.52 L452.5,306.52 L453.0,306.50 L453.5,306.52 L454.0,306.40 L454.5,306.23 L455.0,306.11 L455.5,306.12 L456.0,306.04 L456.5,306.04 L457.0,306.22 L457.5,306.36 L458.0,306.50 L458.5,306.73 L459.0,306.94 L459.5,306.94 L460.0,306.98 L460.5,306.75 L461.0,306.72 L461.5,306.56 L462.0,306.47 L462.5,306.60 L463.0,306.70 L463.5,306.68 L464.0,306.83 L464.5,307.00 L465.0,307.00 L465.5,307.12 L466.0,307.28 L466.5,307.35 L467.0,307.13 L467.5,306.99 L468.0,306.94 L468.5,306.77 L469.0,306.66 L469.5,306.92 L470.0,307.00 L470.5,307.18 L471.0,307.35 L471.5,307.56 L472.0,307.63 L472.5,307.85 L473.0,307.77 L473.5,307.67 L474.0,307.59 L474.5,307.48 L475.0,307.27 L475.5,307.33 L476.0,307.46 L476.5,307.58 L477.0,307.71 L477.5,307.97 L478.0,308.01 L478.5,307.98 L479.0,307.94 L479.5,307.93 L480.0,307.79 L480.5,307.81 L481.0,307.67 L481.5,307.54 L482.0,307.48 L482.5,307.65 L483.0,307.65 L483.5,307.88 L484.0,308.03 L484.5,308.15 L485.0,308.06 L485.5,308.13 L486.0,308.12 L486.5,308.13 L487.0,308.02 L487.5,308.16 L488.0,308.01 L488.5,307.89 L489.0,307.92 L489.5,308.12 L490.0,308.17 L490.5,308.30 L491.0,308.54 L491.5,308.66 L492.0,308.54 L492.5,308.34 L493.0,308.18 L493.5,308.07 L494.0,307.98 L494.5,308.12 L495.0,308.32 L495.5,308.65 L496.0,308.81 L496.5,308.94 L497.0,308.91 L497.5,308.81 L498.0,308.67 L498.5,308.50 L499.0,308.36 L499.5,308.41 L500.0,308.45 L500.5,308.44 L501.0,308.56 L501.5,308.77 L502.0,308.79 L502.5,308.90 L503.0,308.98 L503.5,309.00 L504.0,308.90 L504.5,308.79 L505.0,308.59 L505.5,308.61 L506.0,308.62 L506.5,308.67 L507.0,308.83 L507.5,309.13 L508.0,309.26 L508.5,309.43 L509.0,309.40 L509.5,309.33 L510.0,309.20 L510.5,309.01 L511.0,308.85 L511.5,308.78 L512.0,308.69 L512.5,308.79 L513.0,308.97 L513.5,309.14 L514.0,309.41 L514.5,309.67 L515.0,309.61 L515.5,309.54 L516.0,309.37 L516.5,309.23 L517.0,309.10 L517.5,309.14 L518.0,309.16 L518.5,309.29 L519.0,309.29 L519.5,309.43 L520.0,309.37 L520.5,309.41 L521.0,309.42 L521.5,309.52 L522.0,309.41 L522.5,309.39 L523.0,309.22 L523.5,309.30 L524.0,309.19 L524.5,309.37 L525.0,309.43 L525.5,309.65 L526.0,309.64 L526.5,309.73 L527.0,309.59 L527.5,309.55 L528.0,309.37 L528.5,309.31 L529.0,309.30 L529.5,309.36 L530.0,309.55 L530.5,309.70 L531.0,309.85 L531.5,310.00 L532.0,309.98 L532.5,309.92 L533.0,309.93 L533.5,309.70 L534.0,309.63 L534.5,309.72 L535.0,309.71 L535.5,309.81 L536.0,310.09 L536.5,310.05 L537.0,310.12 L537.5,310.19 L538.0,310.11 L538.5,309.97 L539.0,309.89 L539.5,309.64 L540.0,309.47 L540.5,309.46 L541.0,309.50 L541.5,309.64 L542.0,309.87 L542.5,310.10 L543.0,310.28 L543.5,310.31 L544.0,310.23 L544.5,310.12 L545.0,310.06 L545.5,309.87 L546.0,309.76" fill="none" stroke="#6a2865" stroke-width="1.85" stroke-linejoin="round"/>
<path d="M57.0,343.60 L57.5,343.73 L58.0,343.71 L58.5,343.53 L59.0,343.32 L59.5,343.30 L60.0,343.11 L60.5,342.93 L61.0,343.03 L61.5,343.08 L62.0,343.13 L62.5,343.24 L63.0,343.35 L63.5,343.41 L64.0,343.40 L64.5,343.44 L65.0,343.36 L65.5,343.31 L66.0,343.04 L66.5,342.96 L67.0,342.76 L67.5,342.59 L68.0,342.82 L68.5,343.03 L69.0,343.27 L69.5,343.26 L70.0,343.52 L70.5,343.21 L71.0,343.03 L71.5,342.79 L72.0,342.72 L72.5,342.25 L73.0,342.18 L73.5,342.26 L74.0,342.42 L74.5,342.57 L75.0,342.85 L75.5,343.10 L76.0,343.00 L76.5,342.86 L77.0,342.61 L77.5,342.50 L78.0,342.26 L78.5,342.26 L79.0,342.08 L79.5,342.23 L80.0,342.21 L80.5,342.35 L81.0,342.43 L81.5,342.40 L82.0,342.36 L82.5,342.38 L83.0,342.19 L83.5,342.01 L84.0,341.88 L84.5,341.74 L85.0,341.63 L85.5,341.62 L86.0,341.78 L86.5,341.96 L87.0,342.02 L87.5,342.04 L88.0,342.16 L88.5,341.98 L89.0,342.09 L89.5,342.01 L90.0,342.01 L90.5,342.05 L91.0,342.13 L91.5,341.99 L92.0,342.15 L92.5,342.20 L93.0,342.24 L93.5,342.32 L94.0,342.41 L94.5,342.51 L95.0,342.72 L95.5,342.70 L96.0,342.63 L96.5,342.63 L97.0,342.34 L97.5,342.16 L98.0,342.07 L98.5,342.34 L99.0,342.42 L99.5,342.62 L100.0,342.91 L100.5,343.17 L101.0,343.17 L101.5,343.36 L102.0,343.56 L102.5,343.46 L103.0,343.50 L103.5,343.46 L104.0,343.32 L104.5,343.23 L105.0,343.17 L105.5,343.16 L106.0,343.28 L106.5,343.51 L107.0,343.73 L107.5,343.96 L108.0,344.19 L108.5,344.19 L109.0,344.16 L109.5,344.06 L110.0,344.00 L110.5,343.78 L111.0,343.88 L111.5,343.88 L112.0,343.78 L112.5,343.81 L113.0,343.85 L113.5,343.94 L114.0,344.22 L114.5,344.51 L115.0,344.77 L115.5,344.99 L116.0,345.04 L116.5,345.10 L117.0,345.12 L117.5,344.97 L118.0,345.05 L118.5,345.11 L119.0,345.11 L119.5,345.36 L120.0,345.59 L120.5,345.59 L121.0,345.85 L121.5,345.97 L122.0,345.96 L122.5,346.03 L123.0,346.33 L123.5,346.26 L124.0,346.27 L124.5,346.35 L125.0,346.30 L125.5,346.04 L126.0,345.90 L126.5,345.74 L127.0,345.62 L127.5,345.58 L128.0,345.65 L128.5,345.65 L129.0,345.66 L129.5,345.61 L130.0,345.63 L130.5,345.53 L131.0,345.31 L131.5,345.05 L132.0,344.68 L132.5,344.38 L133.0,344.17 L133.5,343.96 L134.0,343.92 L134.5,343.91 L135.0,343.82 L135.5,343.74 L136.0,343.78 L136.5,343.80 L137.0,343.69 L137.5,343.58 L138.0,343.45 L138.5,343.25 L139.0,343.05 L139.5,342.87 L140.0,342.77 L140.5,342.54 L141.0,342.52 L141.5,342.49 L142.0,342.79 L142.5,342.92 L143.0,343.23 L143.5,343.32 L144.0,343.51 L144.5,343.35 L145.0,343.24 L145.5,342.96 L146.0,342.89 L146.5,342.69 L147.0,342.52 L147.5,342.38 L148.0,342.32 L148.5,342.18 L149.0,342.00 L149.5,341.94 L150.0,342.12 L150.5,342.07 L151.0,342.12 L151.5,342.29 L152.0,342.57 L152.5,342.50 L153.0,342.65 L153.5,342.69 L154.0,342.57 L154.5,342.45 L155.0,342.30 L155.5,342.10 L156.0,341.91 L156.5,341.80 L157.0,341.68 L157.5,341.70 L158.0,341.62 L158.5,341.43 L159.0,341.20 L159.5,341.17 L160.0,340.90 L160.5,340.85 L161.0,340.99 L161.5,340.89 L162.0,340.52 L162.5,340.30 L163.0,339.96 L163.5,339.65 L164.0,339.59 L164.5,339.27 L165.0,339.25 L165.5,339.22 L166.0,339.11 L166.5,339.00 L167.0,339.04 L167.5,338.93 L168.0,338.85 L168.5,338.95 L169.0,339.03 L169.5,339.02 L170.0,338.78 L170.5,338.75 L171.0,338.34 L171.5,338.04 L172.0,337.92 L172.5,337.88 L173.0,337.50 L173.5,337.21 L174.0,336.81 L174.5,336.46 L175.0,336.08 L175.5,336.04 L176.0,336.00 L176.5,335.84 L177.0,335.57 L177.5,335.40 L178.0,335.07 L178.5,334.47 L179.0,334.06 L179.5,333.60 L180.0,333.01 L180.5,332.40 L181.0,332.11 L181.5,331.81 L182.0,331.44 L182.5,331.09 L183.0,330.68 L183.5,330.41 L184.0,329.88 L184.5,329.54 L185.0,329.27 L185.5,328.99 L186.0,328.46 L186.5,328.04 L187.0,327.62 L187.5,327.04 L188.0,326.52 L188.5,326.06 L189.0,325.52 L189.5,324.95 L190.0,324.40 L190.5,323.96 L191.0,323.46 L191.5,322.85 L192.0,322.32 L192.5,321.94 L193.0,321.32 L193.5,320.73 L194.0,320.40 L194.5,319.78 L195.0,319.14 L195.5,318.67 L196.0,318.27 L196.5,317.68 L197.0,317.31 L197.5,317.18 L198.0,316.94 L198.5,316.90 L199.0,317.36 L199.5,317.74 L200.0,317.86 L200.5,318.62 L201.0,319.23 L201.5,319.60 L202.0,320.38 L202.5,321.05 L203.0,321.41 L203.5,321.76 L204.0,322.10 L204.5,322.29 L205.0,322.71 L205.5,323.00 L206.0,323.44 L206.5,323.83 L207.0,324.23 L207.5,324.78 L208.0,325.19 L208.5,325.54 L209.0,326.07 L209.5,326.48 L210.0,326.63 L210.5,326.64 L211.0,326.60 L211.5,326.47 L212.0,326.32 L212.5,325.96 L213.0,325.80 L213.5,325.65 L214.0,325.54 L214.5,325.26 L215.0,325.48 L215.5,325.46 L216.0,325.45 L216.5,325.47 L217.0,325.48 L217.5,325.15 L218.0,324.91 L218.5,324.64 L219.0,324.09 L219.5,323.73 L220.0,323.39 L220.5,323.07 L221.0,322.88 L221.5,322.81 L222.0,322.49 L222.5,322.38 L223.0,322.19 L223.5,321.93 L224.0,321.54 L224.5,321.29 L225.0,320.83 L225.5,320.55 L226.0,319.82 L226.5,319.26 L227.0,318.65 L227.5,318.11 L228.0,317.37 L228.5,317.00 L229.0,316.65 L229.5,316.28 L230.0,315.71 L230.5,315.23 L231.0,314.67 L231.5,314.02 L232.0,313.30 L232.5,312.69 L233.0,312.12 L233.5,311.44 L234.0,310.74 L234.5,310.19 L235.0,309.64 L235.5,308.88 L236.0,308.23 L236.5,307.76 L237.0,307.09 L237.5,306.24 L238.0,305.48 L238.5,304.40 L239.0,302.64 L239.5,300.70 L240.0,298.74 L240.5,296.76 L241.0,294.46 L241.5,292.42 L242.0,290.45 L242.5,288.41 L243.0,286.17 L243.5,284.22 L244.0,282.16 L244.5,280.12 L245.0,278.06 L245.5,276.03 L246.0,273.61 L246.5,271.07 L247.0,268.19 L247.5,265.09 L248.0,262.19 L248.5,259.62 L249.0,257.09 L249.5,254.71 L250.0,252.79 L250.5,250.83 L251.0,249.01 L251.5,247.17 L252.0,245.80 L252.5,244.37 L253.0,243.01 L253.5,241.59 L254.0,240.35 L254.5,239.09 L255.0,237.90 L255.5,236.77 L256.0,235.90 L256.5,235.22 L257.0,234.67 L257.5,234.27 L258.0,234.03 L258.5,233.95 L259.0,234.11 L259.5,234.44 L260.0,235.11 L260.5,235.88 L261.0,236.96 L261.5,238.18 L262.0,239.82 L262.5,241.62 L263.0,243.85 L263.5,246.17 L264.0,248.48 L264.5,250.75 L265.0,253.02 L265.5,255.32 L266.0,257.55 L266.5,259.94 L267.0,262.19 L267.5,264.21 L268.0,266.26 L268.5,268.38 L269.0,270.45 L269.5,272.32 L270.0,274.41 L270.5,276.44 L271.0,278.52 L271.5,280.29 L272.0,282.20 L272.5,284.02 L273.0,285.70 L273.5,287.18 L274.0,288.78 L274.5,290.27 L275.0,291.70 L275.5,293.06 L276.0,294.33 L276.5,295.53 L277.0,296.53 L277.5,297.51 L278.0,298.39 L278.5,299.23 L279.0,299.98 L279.5,300.92 L280.0,301.56 L280.5,302.26 L281.0,302.94 L281.5,303.55 L282.0,304.12 L282.5,304.85 L283.0,305.50 L283.5,306.32 L284.0,307.01 L284.5,307.77 L285.0,308.34 L285.5,309.00 L286.0,309.36 L286.5,309.99 L287.0,310.62 L287.5,311.47 L288.0,312.15 L288.5,312.88 L289.0,313.48 L289.5,313.97 L290.0,314.48 L290.5,314.81 L291.0,315.23 L291.5,315.63 L292.0,316.15 L292.5,316.42 L293.0,317.11 L293.5,317.54 L294.0,318.01 L294.5,318.50 L295.0,319.06 L295.5,319.23 L296.0,319.41 L296.5,319.58 L297.0,319.62 L297.5,319.62 L298.0,319.71 L298.5,320.02 L299.0,320.39 L299.5,320.50 L300.0,320.78 L300.5,321.08 L301.0,321.41 L301.5,321.55 L302.0,321.78 L302.5,321.81 L303.0,322.06 L303.5,322.09 L304.0,322.28 L304.5,322.56 L305.0,323.03 L305.5,323.21 L306.0,323.56 L306.5,323.96 L307.0,324.45 L307.5,324.70 L308.0,325.00 L308.5,325.11 L309.0,325.08 L309.5,324.96 L310.0,324.94 L310.5,325.08 L311.0,325.32 L311.5,325.78 L312.0,326.08 L312.5,326.54 L313.0,326.78 L313.5,327.10 L314.0,327.31 L314.5,327.38 L315.0,327.26 L315.5,327.42 L316.0,327.40 L316.5,327.28 L317.0,327.52 L317.5,327.85 L318.0,328.14 L318.5,328.47 L319.0,328.74 L319.5,328.89 L320.0,328.94 L320.5,328.91 L321.0,329.05 L321.5,329.04 L322.0,329.18 L322.5,329.48 L323.0,329.73 L323.5,329.94 L324.0,330.35 L324.5,330.76 L325.0,330.93 L325.5,331.11 L326.0,331.41 L326.5,331.58 L327.0,331.61 L327.5,331.70 L328.0,331.95 L328.5,331.89 L329.0,331.99 L329.5,332.06 L330.0,332.29 L330.5,332.38 L331.0,332.62 L331.5,332.91 L332.0,333.21 L332.5,333.39 L333.0,333.69 L333.5,333.76 L334.0,333.93 L334.5,334.15 L335.0,334.16 L335.5,334.29 L336.0,334.41 L336.5,334.57 L337.0,334.61 L337.5,335.03 L338.0,335.09 L338.5,335.47 L339.0,335.61 L339.5,335.96 L340.0,336.08 L340.5,336.16 L341.0,336.16 L341.5,336.10 L342.0,336.00 L342.5,336.10 L343.0,336.38 L343.5,336.51 L344.0,336.69 L344.5,336.90 L345.0,337.18 L345.5,337.27 L346.0,337.33 L346.5,337.43 L347.0,337.42 L347.5,337.39 L348.0,337.39 L348.5,337.46 L349.0,337.62 L349.5,337.85 L350.0,337.86 L350.5,337.99 L351.0,338.28 L351.5,338.55 L352.0,338.60 L352.5,338.75 L353.0,339.18 L353.5,339.37 L354.0,339.45 L354.5,339.55 L355.0,339.63 L355.5,339.47 L356.0,339.57 L356.5,339.61 L357.0,339.70 L357.5,340.05 L358.0,340.39 L358.5,340.58 L359.0,340.73 L359.5,341.05 L360.0,341.13 L360.5,341.20 L361.0,341.41 L361.5,341.49 L362.0,341.53 L362.5,341.58 L363.0,341.55 L363.5,341.40 L364.0,341.45 L364.5,341.62 L365.0,341.74 L365.5,341.99 L366.0,342.32 L366.5,342.64 L367.0,342.85 L367.5,343.10 L368.0,343.22 L368.5,343.28 L369.0,343.24 L369.5,343.22 L370.0,343.25 L370.5,343.30 L371.0,343.36 L371.5,343.42 L372.0,343.51 L372.5,343.57 L373.0,343.69 L373.5,343.78 L374.0,344.18 L374.5,344.36 L375.0,344.50 L375.5,344.68 L376.0,344.82 L376.5,344.76 L377.0,344.93 L377.5,344.97 L378.0,344.87 L378.5,344.72 L379.0,344.78 L379.5,344.60 L380.0,344.62 L380.5,344.67 L381.0,345.03 L381.5,345.12 L382.0,345.17 L382.5,345.30 L383.0,345.35 L383.5,345.22 L384.0,345.28 L384.5,345.32 L385.0,345.30 L385.5,345.36 L386.0,345.40 L386.5,345.21 L387.0,345.32 L387.5,345.26 L388.0,345.38 L388.5,345.39 L389.0,345.63 L389.5,345.81 L390.0,346.06 L390.5,346.11 L391.0,346.28 L391.5,346.31 L392.0,346.29 L392.5,346.34 L393.0,346.25 L393.5,346.06 L394.0,346.04 L394.5,345.91 L395.0,345.84 L395.5,345.96 L396.0,346.13 L396.5,346.15 L397.0,346.25 L397.5,346.20 L398.0,346.22 L398.5,346.30 L399.0,346.35 L399.5,346.56 L400.0,346.74 L400.5,346.70 L401.0,346.48 L401.5,346.61 L402.0,346.38 L402.5,346.04 L403.0,345.97 L403.5,346.17 L404.0,346.20 L404.5,346.41 L405.0,346.83 L405.5,347.21 L406.0,347.47 L406.5,347.42 L407.0,347.45 L407.5,347.39 L408.0,347.33 L408.5,347.19 L409.0,347.29 L409.5,347.42 L410.0,347.36 L410.5,347.34 L411.0,347.21 L411.5,347.02 L412.0,346.89 L412.5,346.91 L413.0,346.85 L413.5,347.06 L414.0,347.10 L414.5,347.08 L415.0,347.25 L415.5,347.19 L416.0,347.11 L416.5,347.26 L417.0,347.27 L417.5,347.11 L418.0,347.16 L418.5,347.06 L419.0,346.94 L419.5,346.80 L420.0,346.62 L420.5,346.53 L421.0,346.50 L421.5,346.58 L422.0,346.67 L422.5,346.89 L423.0,347.00 L423.5,347.15 L424.0,347.09 L424.5,347.11 L425.0,347.02 L425.5,346.95 L426.0,346.75 L426.5,346.89 L427.0,346.83 L427.5,346.74 L428.0,346.69 L428.5,346.79 L429.0,346.60 L429.5,346.67 L430.0,346.86 L430.5,347.09 L431.0,346.95 L431.5,347.15 L432.0,347.19 L432.5,347.28 L433.0,347.16 L433.5,347.29 L434.0,347.09 L434.5,347.03 L435.0,346.88 L435.5,346.73 L436.0,346.70 L436.5,346.78 L437.0,346.68 L437.5,346.71 L438.0,346.94 L438.5,347.05 L439.0,347.04 L439.5,347.33 L440.0,347.45 L440.5,347.52 L441.0,347.51 L441.5,347.61 L442.0,347.40 L442.5,347.29 L443.0,347.20 L443.5,347.23 L444.0,347.15 L444.5,347.16 L445.0,347.33 L445.5,347.30 L446.0,347.38 L446.5,347.54 L447.0,347.76 L447.5,347.71 L448.0,347.77 L448.5,347.77 L449.0,347.63 L449.5,347.42 L450.0,347.37 L450.5,347.38 L451.0,347.19 L451.5,347.37 L452.0,347.46 L452.5,347.62 L453.0,347.79 L453.5,348.02 L454.0,348.00 L454.5,347.99 L455.0,348.04 L455.5,348.11 L456.0,348.10 L456.5,348.07 L457.0,348.03 L457.5,347.78 L458.0,347.56 L458.5,347.59 L459.0,347.54 L459.5,347.71 L460.0,347.89 L460.5,347.99 L461.0,347.94 L461.5,348.03 L462.0,347.94 L462.5,348.01 L463.0,348.05 L463.5,347.98 L464.0,347.86 L464.5,347.75 L465.0,347.59 L465.5,347.53 L466.0,347.50 L466.5,347.54 L467.0,347.73 L467.5,347.68 L468.0,347.76 L468.5,348.05 L469.0,348.28 L469.5,348.27 L470.0,348.37 L470.5,348.35 L471.0,348.18 L471.5,348.05 L472.0,347.98 L472.5,347.94 L473.0,347.89 L473.5,348.00 L474.0,347.88 L474.5,348.06 L475.0,348.16 L475.5,348.25 L476.0,348.11 L476.5,348.18 L477.0,347.97 L477.5,347.66 L478.0,347.54 L478.5,347.39 L479.0,347.30 L479.5,347.22 L480.0,347.40 L480.5,347.41 L481.0,347.47 L481.5,347.57 L482.0,347.72 L482.5,347.63 L483.0,347.81 L483.5,347.95 L484.0,347.89 L484.5,347.82 L485.0,347.96 L485.5,347.68 L486.0,347.65 L486.5,347.70 L487.0,347.71 L487.5,347.74 L488.0,347.90 L488.5,347.82 L489.0,347.84 L489.5,347.88 L490.0,347.93 L490.5,347.84 L491.0,347.77 L491.5,347.63 L492.0,347.51 L492.5,347.18 L493.0,347.16 L493.5,347.19 L494.0,347.38 L494.5,347.56 L495.0,347.90 L495.5,347.99 L496.0,348.07 L496.5,347.97 L497.0,347.72 L497.5,347.59 L498.0,347.44 L498.5,347.23 L499.0,347.15 L499.5,347.35 L500.0,347.34 L500.5,347.57 L501.0,347.93 L501.5,347.98 L502.0,347.90 L502.5,347.89 L503.0,347.66 L503.5,347.51 L504.0,347.53 L504.5,347.55 L505.0,347.58 L505.5,347.63 L506.0,347.64 L506.5,347.61 L507.0,347.86 L507.5,347.97 L508.0,348.08 L508.5,348.03 L509.0,347.91 L509.5,347.56 L510.0,347.34 L510.5,347.17 L511.0,347.22 L511.5,347.32 L512.0,347.49 L512.5,347.67 L513.0,347.87 L513.5,347.92 L514.0,348.08 L514.5,348.06 L515.0,347.99 L515.5,347.83 L516.0,347.72 L516.5,347.58 L517.0,347.56 L517.5,347.48 L518.0,347.52 L518.5,347.64 L519.0,347.83 L519.5,347.89 L520.0,348.08 L520.5,348.20 L521.0,348.17 L521.5,348.12 L522.0,347.94 L522.5,347.68 L523.0,347.45 L523.5,347.37 L524.0,347.25 L524.5,347.39 L525.0,347.65 L525.5,347.83 L526.0,347.94 L526.5,348.07 L527.0,348.06 L527.5,347.97 L528.0,347.88 L528.5,347.71 L529.0,347.59 L529.5,347.57 L530.0,347.62 L530.5,347.74 L531.0,347.90 L531.5,348.14 L532.0,348.15 L532.5,348.03 L533.0,347.97 L533.5,347.93 L534.0,347.76 L534.5,347.71 L535.0,347.78 L535.5,347.81 L536.0,347.93 L536.5,347.84 L537.0,348.03 L537.5,348.06 L538.0,348.24 L538.5,348.19 L539.0,348.28 L539.5,348.26 L540.0,348.27 L540.5,348.07 L541.0,348.11 L541.5,348.07 L542.0,347.99 L542.5,348.14 L543.0,348.21 L543.5,348.30 L544.0,348.37 L544.5,348.50 L545.0,348.43 L545.5,348.46 L546.0,348.38" fill="none" stroke="#e2625f" stroke-width="1.85" stroke-linejoin="round"/>
<path d="M57.0,387.88 L57.5,388.00 L58.0,388.10 L58.5,388.23 L59.0,388.14 L59.5,387.76 L60.0,387.73 L60.5,387.63 L61.0,387.35 L61.5,387.48 L62.0,387.62 L62.5,387.81 L63.0,387.82 L63.5,387.99 L64.0,388.18 L64.5,388.39 L65.0,388.10 L65.5,388.21 L66.0,388.04 L66.5,387.72 L67.0,387.37 L67.5,387.47 L68.0,387.55 L68.5,387.81 L69.0,388.00 L69.5,388.14 L70.0,388.21 L70.5,388.07 L71.0,387.99 L71.5,387.78 L72.0,387.66 L72.5,387.52 L73.0,387.43 L73.5,387.34 L74.0,387.45 L74.5,387.66 L75.0,387.75 L75.5,388.00 L76.0,387.99 L76.5,387.91 L77.0,387.71 L77.5,387.62 L78.0,387.34 L78.5,387.35 L79.0,387.40 L79.5,387.37 L80.0,387.30 L80.5,387.32 L81.0,387.42 L81.5,387.42 L82.0,387.30 L82.5,387.27 L83.0,387.17 L83.5,387.04 L84.0,386.86 L84.5,387.06 L85.0,387.06 L85.5,387.03 L86.0,386.84 L86.5,386.97 L87.0,386.79 L87.5,386.73 L88.0,386.85 L88.5,386.94 L89.0,386.94 L89.5,386.89 L90.0,386.56 L90.5,386.43 L91.0,386.09 L91.5,386.00 L92.0,386.11 L92.5,386.33 L93.0,386.17 L93.5,386.29 L94.0,386.31 L94.5,386.18 L95.0,386.19 L95.5,386.26 L96.0,386.53 L96.5,386.35 L97.0,386.29 L97.5,386.28 L98.0,386.29 L98.5,386.11 L99.0,385.99 L99.5,385.93 L100.0,385.84 L100.5,385.75 L101.0,385.83 L101.5,385.88 L102.0,385.87 L102.5,385.80 L103.0,385.69 L103.5,385.50 L104.0,385.35 L104.5,385.18 L105.0,385.21 L105.5,385.28 L106.0,385.29 L106.5,385.41 L107.0,385.35 L107.5,385.43 L108.0,385.47 L108.5,385.49 L109.0,385.33 L109.5,385.65 L110.0,385.32 L110.5,385.18 L111.0,384.94 L111.5,384.85 L112.0,384.61 L112.5,384.68 L113.0,384.40 L113.5,384.33 L114.0,384.49 L114.5,384.69 L115.0,384.59 L115.5,384.80 L116.0,384.99 L116.5,384.88 L117.0,384.47 L117.5,384.26 L118.0,383.78 L118.5,383.22 L119.0,382.78 L119.5,382.28 L120.0,382.00 L120.5,382.02 L121.0,381.94 L121.5,381.87 L122.0,382.09 L122.5,382.24 L123.0,382.38 L123.5,382.64 L124.0,382.96 L124.5,383.08 L125.0,383.21 L125.5,383.21 L126.0,383.13 L126.5,382.97 L127.0,382.97 L127.5,382.81 L128.0,382.51 L128.5,382.42 L129.0,382.25 L129.5,382.07 L130.0,381.95 L130.5,381.84 L131.0,381.72 L131.5,381.57 L132.0,381.25 L132.5,381.17 L133.0,381.15 L133.5,380.91 L134.0,380.98 L134.5,381.01 L135.0,380.81 L135.5,380.76 L136.0,380.61 L136.5,380.40 L137.0,380.34 L137.5,380.39 L138.0,380.16 L138.5,380.07 L139.0,379.74 L139.5,379.53 L140.0,379.23 L140.5,378.97 L141.0,378.80 L141.5,378.64 L142.0,378.63 L142.5,378.64 L143.0,378.75 L143.5,378.67 L144.0,378.68 L144.5,378.22 L145.0,378.18 L145.5,377.89 L146.0,377.77 L146.5,377.45 L147.0,377.39 L147.5,376.94 L148.0,376.62 L148.5,376.24 L149.0,376.10 L149.5,375.86 L150.0,375.58 L150.5,375.48 L151.0,375.39 L151.5,375.33 L152.0,375.32 L152.5,375.32 L153.0,375.10 L153.5,374.96 L154.0,374.61 L154.5,374.26 L155.0,374.07 L155.5,374.04 L156.0,373.89 L156.5,373.77 L157.0,373.81 L157.5,373.71 L158.0,373.90 L158.5,374.12 L159.0,374.62 L159.5,374.99 L160.0,375.37 L160.5,375.76 L161.0,375.76 L161.5,375.55 L162.0,375.37 L162.5,375.29 L163.0,374.85 L163.5,374.70 L164.0,374.51 L164.5,374.53 L165.0,374.24 L165.5,374.02 L166.0,373.92 L166.5,373.85 L167.0,373.59 L167.5,373.69 L168.0,373.64 L168.5,373.50 L169.0,373.36 L169.5,373.14 L170.0,372.80 L170.5,372.58 L171.0,372.19 L171.5,371.75 L172.0,371.37 L172.5,371.00 L173.0,370.60 L173.5,370.31 L174.0,369.94 L174.5,369.80 L175.0,369.33 L175.5,368.98 L176.0,368.73 L176.5,368.67 L177.0,368.30 L177.5,368.06 L178.0,367.81 L178.5,367.39 L179.0,366.78 L179.5,366.31 L180.0,365.86 L180.5,365.48 L181.0,365.09 L181.5,364.94 L182.0,364.65 L182.5,364.44 L183.0,364.18 L183.5,363.94 L184.0,363.50 L184.5,363.22 L185.0,362.67 L185.5,362.11 L186.0,361.63 L186.5,361.06 L187.0,360.38 L187.5,359.74 L188.0,359.02 L188.5,358.32 L189.0,357.77 L189.5,357.20 L190.0,356.70 L190.5,356.26 L191.0,355.79 L191.5,355.33 L192.0,354.68 L192.5,354.26 L193.0,354.02 L193.5,353.47 L194.0,353.11 L194.5,352.81 L195.0,352.58 L195.5,351.98 L196.0,351.74 L196.5,351.15 L197.0,350.92 L197.5,350.72 L198.0,350.52 L198.5,350.58 L199.0,350.74 L199.5,350.83 L200.0,350.59 L200.5,351.04 L201.0,351.05 L201.5,351.26 L202.0,351.29 L202.5,351.59 L203.0,351.69 L203.5,351.80 L204.0,352.00 L204.5,352.19 L205.0,352.42 L205.5,352.39 L206.0,352.66 L206.5,353.05 L207.0,353.38 L207.5,353.67 L208.0,353.95 L208.5,354.28 L209.0,354.40 L209.5,354.38 L210.0,354.38 L210.5,354.79 L211.0,354.86 L211.5,354.85 L212.0,355.20 L212.5,355.58 L213.0,355.61 L213.5,355.74 L214.0,356.16 L214.5,356.36 L215.0,356.42 L215.5,356.55 L216.0,356.79 L216.5,356.71 L217.0,356.74 L217.5,356.79 L218.0,356.35 L218.5,356.02 L219.0,355.81 L219.5,355.50 L220.0,354.99 L220.5,354.84 L221.0,354.62 L221.5,354.11 L222.0,353.63 L222.5,353.52 L223.0,353.18 L223.5,352.74 L224.0,352.34 L224.5,351.94 L225.0,351.16 L225.5,350.58 L226.0,350.07 L226.5,349.37 L227.0,348.81 L227.5,348.23 L228.0,347.76 L228.5,347.15 L229.0,346.66 L229.5,346.32 L230.0,346.01 L230.5,345.73 L231.0,345.18 L231.5,344.93 L232.0,344.49 L232.5,343.91 L233.0,343.06 L233.5,342.51 L234.0,341.74 L234.5,340.80 L235.0,340.10 L235.5,339.48 L236.0,338.87 L236.5,338.22 L237.0,337.54 L237.5,336.98 L238.0,336.29 L238.5,335.68 L239.0,334.76 L239.5,333.75 L240.0,332.51 L240.5,331.42 L241.0,329.93 L241.5,328.67 L242.0,327.78 L242.5,326.62 L243.0,325.68 L243.5,324.73 L244.0,323.69 L244.5,322.58 L245.0,321.51 L245.5,320.01 L246.0,318.68 L246.5,317.55 L247.0,316.07 L247.5,314.79 L248.0,313.73 L248.5,312.47 L249.0,311.18 L249.5,309.97 L250.0,308.70 L250.5,307.52 L251.0,306.69 L251.5,305.51 L252.0,304.68 L252.5,303.84 L253.0,302.73 L253.5,301.54 L254.0,300.88 L254.5,299.75 L255.0,299.03 L255.5,298.65 L256.0,298.13 L256.5,297.73 L257.0,297.66 L257.5,297.42 L258.0,297.29 L258.5,297.27 L259.0,297.08 L259.5,296.89 L260.0,297.04 L260.5,297.11 L261.0,297.45 L261.5,297.96 L262.0,298.73 L262.5,299.64 L263.0,300.94 L263.5,302.13 L264.0,303.60 L264.5,304.96 L265.0,306.20 L265.5,307.11 L266.0,308.47 L266.5,309.27 L267.0,310.42 L267.5,311.76 L268.0,313.14 L268.5,314.23 L269.0,315.78 L269.5,317.25 L270.0,318.64 L270.5,320.09 L271.0,321.35 L271.5,322.50 L272.0,323.58 L272.5,324.41 L273.0,325.39 L273.5,326.79 L274.0,327.83 L274.5,329.05 L275.0,330.22 L275.5,331.35 L276.0,332.23 L276.5,333.23 L277.0,334.08 L277.5,335.20 L278.0,336.12 L278.5,336.97 L279.0,337.79 L279.5,338.56 L280.0,339.24 L280.5,340.05 L281.0,340.91 L281.5,341.65 L282.0,342.49 L282.5,343.04 L283.0,343.49 L283.5,343.71 L284.0,344.22 L284.5,344.40 L285.0,344.66 L285.5,345.04 L286.0,345.60 L286.5,346.06 L287.0,346.71 L287.5,347.33 L288.0,348.05 L288.5,348.60 L289.0,349.22 L289.5,349.42 L290.0,349.94 L290.5,350.21 L291.0,350.67 L291.5,350.88 L292.0,351.61 L292.5,351.96 L293.0,352.63 L293.5,353.19 L294.0,353.85 L294.5,354.54 L295.0,355.08 L295.5,355.42 L296.0,355.79 L296.5,356.26 L297.0,356.36 L297.5,356.85 L298.0,357.20 L298.5,357.50 L299.0,357.69 L299.5,357.98 L300.0,358.34 L300.5,358.48 L301.0,358.72 L301.5,358.77 L302.0,358.80 L302.5,358.54 L303.0,358.73 L303.5,358.48 L304.0,358.63 L304.5,358.79 L305.0,359.08 L305.5,359.16 L306.0,359.61 L306.5,359.85 L307.0,360.00 L307.5,360.03 L308.0,360.00 L308.5,359.72 L309.0,359.65 L309.5,359.64 L310.0,359.53 L310.5,359.41 L311.0,359.66 L311.5,359.87 L312.0,360.02 L312.5,360.12 L313.0,360.44 L313.5,360.49 L314.0,360.47 L314.5,360.15 L315.0,360.39 L315.5,360.29 L316.0,360.41 L316.5,360.51 L317.0,360.90 L317.5,361.23 L318.0,361.67 L318.5,362.07 L319.0,362.65 L319.5,363.19 L320.0,363.42 L320.5,363.82 L321.0,363.97 L321.5,363.97 L322.0,364.11 L322.5,364.34 L323.0,364.48 L323.5,364.88 L324.0,365.10 L324.5,365.21 L325.0,365.54 L325.5,365.81 L326.0,365.83 L326.5,366.04 L327.0,366.17 L327.5,365.89 L328.0,365.87 L328.5,365.94 L329.0,365.92 L329.5,366.20 L330.0,366.63 L330.5,366.65 L331.0,366.73 L331.5,366.77 L332.0,366.84 L332.5,366.85 L333.0,367.10 L333.5,367.31 L334.0,367.48 L334.5,367.45 L335.0,367.34 L335.5,367.46 L336.0,367.47 L336.5,367.71 L337.0,367.86 L337.5,368.24 L338.0,368.41 L338.5,368.67 L339.0,368.74 L339.5,369.20 L340.0,369.28 L340.5,369.34 L341.0,369.38 L341.5,369.39 L342.0,369.30 L342.5,369.40 L343.0,369.46 L343.5,369.38 L344.0,369.67 L344.5,369.84 L345.0,370.06 L345.5,370.23 L346.0,370.77 L346.5,370.90 L347.0,370.97 L347.5,371.09 L348.0,371.21 L348.5,370.96 L349.0,370.98 L349.5,370.89 L350.0,370.68 L350.5,370.74 L351.0,370.87 L351.5,370.99 L352.0,371.03 L352.5,371.33 L353.0,371.43 L353.5,371.73 L354.0,371.80 L354.5,371.99 L355.0,372.00 L355.5,372.19 L356.0,372.14 L356.5,372.20 L357.0,372.54 L357.5,372.56 L358.0,372.35 L358.5,372.48 L359.0,372.65 L359.5,372.55 L360.0,372.90 L360.5,373.25 L361.0,373.30 L361.5,373.42 L362.0,373.42 L362.5,373.51 L363.0,373.55 L363.5,373.95 L364.0,374.08 L364.5,374.31 L365.0,374.43 L365.5,374.62 L366.0,374.55 L366.5,374.57 L367.0,374.94 L367.5,375.29 L368.0,375.42 L368.5,375.62 L369.0,375.83 L369.5,375.89 L370.0,375.92 L370.5,375.93 L371.0,375.98 L371.5,376.06 L372.0,376.10 L372.5,376.21 L373.0,376.60 L373.5,376.83 L374.0,377.01 L374.5,377.28 L375.0,377.47 L375.5,377.50 L376.0,377.68 L376.5,377.91 L377.0,377.99 L377.5,377.95 L378.0,378.04 L378.5,378.04 L379.0,377.92 L379.5,377.95 L380.0,378.02 L380.5,378.19 L381.0,378.20 L381.5,378.39 L382.0,378.53 L382.5,378.52 L383.0,378.54 L383.5,378.73 L384.0,378.84 L384.5,378.82 L385.0,378.77 L385.5,378.77 L386.0,378.80 L386.5,378.92 L387.0,379.09 L387.5,379.37 L388.0,379.51 L388.5,379.33 L389.0,379.38 L389.5,379.44 L390.0,379.59 L390.5,379.61 L391.0,379.87 L391.5,379.80 L392.0,379.67 L392.5,379.56 L393.0,379.48 L393.5,379.37 L394.0,379.13 L394.5,379.16 L395.0,378.89 L395.5,378.45 L396.0,378.52 L396.5,378.70 L397.0,378.53 L397.5,378.74 L398.0,379.09 L398.5,378.91 L399.0,378.86 L399.5,378.74 L400.0,378.57 L400.5,378.41 L401.0,378.46 L401.5,378.48 L402.0,378.47 L402.5,378.51 L403.0,378.35 L403.5,378.22 L404.0,378.24 L404.5,378.62 L405.0,379.03 L405.5,379.81 L406.0,380.27 L406.5,380.69 L407.0,380.84 L407.5,381.16 L408.0,381.40 L408.5,381.69 L409.0,381.69 L409.5,381.99 L410.0,382.04 L410.5,381.99 L411.0,381.93 L411.5,382.00 L412.0,381.97 L412.5,381.97 L413.0,382.09 L413.5,382.24 L414.0,382.21 L414.5,382.30 L415.0,382.43 L415.5,382.43 L416.0,382.53 L416.5,382.65 L417.0,382.82 L417.5,382.80 L418.0,382.81 L418.5,382.79 L419.0,382.86 L419.5,382.68 L420.0,382.70 L420.5,382.75 L421.0,382.73 L421.5,382.72 L422.0,382.70 L422.5,382.73 L423.0,382.80 L423.5,382.80 L424.0,383.02 L424.5,383.18 L425.0,383.07 L425.5,382.98 L426.0,383.01 L426.5,382.80 L427.0,382.64 L427.5,382.68 L428.0,382.53 L428.5,382.48 L429.0,382.56 L429.5,382.63 L430.0,382.78 L430.5,383.12 L431.0,383.22 L431.5,383.04 L432.0,383.28 L432.5,383.40 L433.0,383.17 L433.5,383.23 L434.0,383.44 L434.5,383.12 L435.0,382.85 L435.5,383.07 L436.0,383.03 L436.5,382.99 L437.0,383.31 L437.5,383.38 L438.0,383.18 L438.5,383.41 L439.0,383.45 L439.5,383.44 L440.0,383.69 L440.5,383.94 L441.0,383.82 L441.5,383.80 L442.0,383.80 L442.5,383.82 L443.0,383.67 L443.5,383.49 L444.0,383.56 L444.5,383.46 L445.0,383.32 L445.5,383.48 L446.0,383.77 L446.5,383.89 L447.0,384.12 L447.5,384.33 L448.0,384.31 L448.5,384.30 L449.0,384.31 L449.5,384.14 L450.0,383.88 L450.5,383.93 L451.0,383.87 L451.5,384.00 L452.0,384.23 L452.5,384.76 L453.0,384.94 L453.5,385.17 L454.0,385.50 L454.5,385.63 L455.0,385.74 L455.5,385.60 L456.0,385.65 L456.5,385.62 L457.0,385.86 L457.5,385.70 L458.0,385.98 L458.5,386.09 L459.0,386.13 L459.5,386.15 L460.0,386.39 L460.5,386.60 L461.0,386.93 L461.5,387.20 L462.0,387.67 L462.5,387.80 L463.0,388.04 L463.5,387.92 L464.0,387.66 L464.5,387.12 L465.0,387.09 L465.5,387.23 L466.0,387.36 L466.5,387.35 L467.0,387.73 L467.5,387.83 L468.0,387.77 L468.5,388.12 L469.0,388.62 L469.5,388.82 L470.0,388.78 L470.5,388.81 L471.0,388.41 L471.5,388.23 L472.0,387.78 L472.5,387.79 L473.0,387.60 L473.5,387.59 L474.0,387.22 L474.5,387.30 L475.0,386.90 L475.5,386.63 L476.0,386.37 L476.5,386.53 L477.0,386.24 L477.5,386.10 L478.0,386.03 L478.5,386.15 L479.0,385.77 L479.5,385.58 L480.0,385.57 L480.5,385.60 L481.0,385.66 L481.5,385.81 L482.0,386.02 L482.5,386.14 L483.0,386.08 L483.5,386.00 L484.0,386.00 L484.5,385.97 L485.0,385.85 L485.5,385.95 L486.0,385.85 L486.5,386.01 L487.0,386.16 L487.5,386.41 L488.0,386.53 L488.5,386.67 L489.0,386.61 L489.5,386.46 L490.0,386.56 L490.5,386.69 L491.0,386.56 L491.5,386.64 L492.0,386.63 L492.5,386.50 L493.0,386.31 L493.5,386.39 L494.0,386.47 L494.5,386.77 L495.0,386.68 L495.5,386.85 L496.0,386.95 L496.5,386.99 L497.0,386.71 L497.5,386.89 L498.0,386.84 L498.5,386.85 L499.0,386.84 L499.5,386.92 L500.0,386.96 L500.5,387.05 L501.0,386.97 L501.5,386.98 L502.0,387.21 L502.5,387.31 L503.0,387.06 L503.5,387.04 L504.0,386.87 L504.5,386.75 L505.0,386.73 L505.5,386.87 L506.0,386.86 L506.5,386.85 L507.0,386.86 L507.5,386.86 L508.0,386.93 L508.5,387.00 L509.0,387.13 L509.5,387.09 L510.0,387.11 L510.5,387.09 L511.0,387.22 L511.5,387.17 L512.0,387.23 L512.5,387.24 L513.0,387.40 L513.5,387.56 L514.0,387.87 L514.5,388.01 L515.0,388.08 L515.5,388.07 L516.0,387.90 L516.5,387.59 L517.0,387.61 L517.5,387.59 L518.0,387.45 L518.5,387.56 L519.0,387.74 L519.5,387.81 L520.0,387.88 L520.5,388.05 L521.0,387.99 L521.5,387.99 L522.0,387.96 L522.5,387.96 L523.0,387.94 L523.5,388.11 L524.0,388.05 L524.5,388.13 L525.0,388.38 L525.5,388.59 L526.0,388.71 L526.5,388.82 L527.0,388.91 L527.5,388.66 L528.0,388.63 L528.5,388.45 L529.0,388.56 L529.5,388.36 L530.0,388.46 L530.5,388.28 L531.0,388.44 L531.5,388.58 L532.0,388.83 L532.5,389.04 L533.0,389.29 L533.5,389.22 L534.0,389.12 L534.5,388.93 L535.0,388.84 L535.5,388.79 L536.0,388.85 L536.5,388.89 L537.0,389.03 L537.5,389.00 L538.0,389.08 L538.5,389.20 L539.0,389.07 L539.5,389.11 L540.0,389.48 L540.5,389.43 L541.0,389.27 L541.5,389.45 L542.0,389.45 L542.5,389.19 L543.0,389.32 L543.5,389.39 L544.0,389.62 L544.5,389.77 L545.0,389.92 L545.5,389.88 L546.0,389.91" fill="none" stroke="#5cb46e" stroke-width="1.85" stroke-linejoin="round"/>
<path d="M57.0,428.67 L57.5,428.84 L58.0,428.75 L58.5,428.80 L59.0,428.64 L59.5,428.21 L60.0,428.09 L60.5,427.98 L61.0,427.96 L61.5,427.92 L62.0,428.16 L62.5,428.40 L63.0,428.77 L63.5,428.87 L64.0,429.03 L64.5,429.10 L65.0,428.95 L65.5,428.77 L66.0,428.47 L66.5,428.29 L67.0,427.94 L67.5,427.73 L68.0,427.76 L68.5,427.82 L69.0,428.08 L69.5,428.56 L70.0,428.86 L70.5,429.00 L71.0,429.05 L71.5,428.67 L72.0,428.41 L72.5,428.17 L73.0,427.82 L73.5,427.63 L74.0,427.48 L74.5,427.40 L75.0,427.48 L75.5,427.78 L76.0,428.19 L76.5,428.57 L77.0,428.71 L77.5,428.80 L78.0,428.60 L78.5,428.10 L79.0,427.90 L79.5,427.58 L80.0,427.23 L80.5,427.07 L81.0,427.27 L81.5,427.45 L82.0,427.76 L82.5,428.13 L83.0,428.41 L83.5,428.69 L84.0,428.71 L84.5,428.52 L85.0,428.25 L85.5,428.02 L86.0,427.55 L86.5,427.13 L87.0,427.05 L87.5,427.10 L88.0,427.23 L88.5,427.39 L89.0,427.77 L89.5,427.94 L90.0,427.85 L90.5,427.82 L91.0,427.82 L91.5,427.56 L92.0,427.42 L92.5,427.40 L93.0,427.14 L93.5,426.85 L94.0,426.79 L94.5,426.67 L95.0,426.75 L95.5,426.98 L96.0,427.29 L96.5,427.55 L97.0,427.55 L97.5,427.52 L98.0,427.27 L98.5,427.00 L99.0,426.58 L99.5,426.35 L100.0,426.12 L100.5,425.99 L101.0,425.99 L101.5,426.07 L102.0,426.33 L102.5,426.52 L103.0,426.94 L103.5,427.08 L104.0,427.13 L104.5,427.17 L105.0,426.92 L105.5,426.42 L106.0,425.93 L106.5,425.63 L107.0,425.28 L107.5,425.11 L108.0,424.99 L108.5,425.19 L109.0,425.39 L109.5,425.58 L110.0,425.76 L110.5,425.95 L111.0,425.93 L111.5,425.92 L112.0,425.73 L112.5,425.36 L113.0,425.15 L113.5,424.82 L114.0,424.64 L114.5,424.45 L115.0,424.55 L115.5,424.59 L116.0,424.82 L116.5,424.86 L117.0,425.10 L117.5,425.24 L118.0,425.24 L118.5,425.13 L119.0,424.85 L119.5,424.54 L120.0,424.17 L120.5,423.84 L121.0,423.52 L121.5,423.38 L122.0,423.34 L122.5,423.36 L123.0,423.50 L123.5,423.73 L124.0,423.92 L124.5,424.07 L125.0,424.26 L125.5,424.16 L126.0,424.13 L126.5,423.94 L127.0,423.39 L127.5,423.08 L128.0,422.78 L128.5,422.49 L129.0,422.21 L129.5,422.34 L130.0,422.31 L130.5,422.41 L131.0,422.41 L131.5,422.67 L132.0,422.98 L132.5,423.17 L133.0,423.42 L133.5,423.50 L134.0,423.42 L134.5,423.17 L135.0,422.83 L135.5,422.32 L136.0,422.02 L136.5,421.66 L137.0,421.30 L137.5,421.15 L138.0,421.20 L138.5,421.29 L139.0,421.50 L139.5,421.71 L140.0,421.87 L140.5,421.96 L141.0,421.92 L141.5,421.96 L142.0,421.89 L142.5,421.63 L143.0,421.35 L143.5,421.00 L144.0,420.56 L144.5,420.12 L145.0,419.99 L145.5,419.87 L146.0,419.94 L146.5,420.10 L147.0,420.37 L147.5,420.41 L148.0,420.51 L148.5,420.65 L149.0,420.72 L149.5,420.57 L150.0,420.46 L150.5,420.44 L151.0,420.10 L151.5,419.87 L152.0,419.68 L152.5,419.51 L153.0,419.15 L153.5,418.91 L154.0,418.53 L154.5,418.26 L155.0,418.34 L155.5,418.53 L156.0,418.66 L156.5,418.99 L157.0,419.17 L157.5,419.22 L158.0,419.13 L158.5,419.14 L159.0,418.67 L159.5,418.58 L160.0,418.17 L160.5,417.79 L161.0,417.25 L161.5,417.13 L162.0,416.83 L162.5,416.58 L163.0,416.41 L163.5,416.43 L164.0,416.45 L164.5,416.62 L165.0,416.86 L165.5,417.13 L166.0,417.22 L166.5,417.01 L167.0,416.62 L167.5,416.10 L168.0,415.54 L168.5,415.16 L169.0,414.80 L169.5,414.37 L170.0,414.10 L170.5,413.84 L171.0,413.55 L171.5,413.31 L172.0,413.17 L172.5,413.03 L173.0,413.00 L173.5,412.89 L174.0,412.79 L174.5,412.85 L175.0,412.59 L175.5,412.18 L176.0,411.72 L176.5,411.23 L177.0,410.52 L177.5,409.99 L178.0,409.46 L178.5,408.98 L179.0,408.56 L179.5,408.12 L180.0,407.93 L180.5,407.68 L181.0,407.57 L181.5,407.50 L182.0,407.63 L182.5,407.34 L183.0,406.96 L183.5,406.50 L184.0,406.12 L184.5,405.53 L185.0,405.09 L185.5,404.64 L186.0,404.15 L186.5,403.35 L187.0,402.60 L187.5,401.92 L188.0,401.56 L188.5,401.29 L189.0,401.23 L189.5,401.24 L190.0,401.27 L190.5,401.21 L191.0,401.11 L191.5,401.19 L192.0,401.09 L192.5,400.98 L193.0,400.85 L193.5,400.58 L194.0,400.06 L194.5,399.82 L195.0,399.46 L195.5,399.20 L196.0,399.18 L196.5,399.52 L197.0,399.77 L197.5,400.36 L198.0,401.12 L198.5,401.72 L199.0,402.14 L199.5,402.78 L200.0,403.14 L200.5,403.23 L201.0,403.29 L201.5,403.15 L202.0,402.64 L202.5,401.97 L203.0,401.36 L203.5,400.80 L204.0,400.33 L204.5,399.99 L205.0,400.04 L205.5,400.20 L206.0,400.51 L206.5,401.17 L207.0,401.80 L207.5,402.40 L208.0,402.69 L208.5,403.00 L209.0,403.08 L209.5,402.97 L210.0,402.71 L210.5,402.49 L211.0,402.11 L211.5,401.75 L212.0,401.49 L212.5,401.23 L213.0,401.13 L213.5,401.20 L214.0,401.22 L214.5,401.26 L215.0,401.30 L215.5,401.21 L216.0,400.89 L216.5,400.66 L217.0,400.13 L217.5,399.55 L218.0,398.81 L218.5,398.00 L219.0,397.03 L219.5,396.30 L220.0,395.52 L220.5,395.11 L221.0,394.77 L221.5,394.49 L222.0,394.37 L222.5,394.17 L223.0,393.77 L223.5,393.65 L224.0,393.25 L224.5,392.53 L225.0,391.80 L225.5,391.10 L226.0,390.09 L226.5,388.98 L227.0,388.12 L227.5,387.40 L228.0,386.66 L228.5,385.86 L229.0,385.50 L229.5,385.13 L230.0,384.68 L230.5,383.99 L231.0,383.47 L231.5,382.60 L232.0,381.54 L232.5,380.06 L233.0,378.90 L233.5,377.45 L234.0,376.02 L234.5,374.18 L235.0,372.62 L235.5,370.67 L236.0,368.86 L236.5,366.93 L237.0,365.26 L237.5,363.37 L238.0,361.23 L238.5,359.10 L239.0,356.92 L239.5,354.63 L240.0,352.35 L240.5,350.16 L241.0,347.79 L241.5,345.53 L242.0,343.06 L242.5,340.73 L243.0,338.45 L243.5,336.37 L244.0,334.23 L244.5,332.27 L245.0,330.26 L245.5,328.46 L246.0,326.60 L246.5,324.79 L247.0,323.17 L247.5,321.58 L248.0,320.20 L248.5,319.08 L249.0,318.35 L249.5,317.63 L250.0,317.34 L250.5,317.24 L251.0,317.04 L251.5,316.75 L252.0,316.71 L252.5,316.88 L253.0,317.13 L253.5,317.71 L254.0,318.48 L254.5,319.61 L255.0,320.74 L255.5,322.39 L256.0,324.39 L256.5,326.70 L257.0,329.18 L257.5,331.64 L258.0,333.88 L258.5,336.13 L259.0,338.21 L259.5,339.95 L260.0,341.86 L260.5,343.80 L261.0,345.63 L261.5,347.22 L262.0,349.04 L262.5,350.86 L263.0,352.32 L263.5,353.55 L264.0,354.78 L264.5,355.23 L265.0,355.65 L265.5,356.34 L266.0,357.20 L266.5,358.25 L267.0,359.62 L267.5,360.64 L268.0,361.51 L268.5,362.72 L269.0,363.99 L269.5,364.98 L270.0,366.31 L270.5,367.62 L271.0,368.89 L271.5,369.91 L272.0,371.21 L272.5,372.37 L273.0,373.66 L273.5,374.80 L274.0,376.01 L274.5,377.16 L275.0,378.26 L275.5,379.39 L276.0,380.61 L276.5,381.86 L277.0,383.26 L277.5,384.48 L278.0,385.67 L278.5,386.72 L279.0,387.66 L279.5,388.54 L280.0,389.39 L280.5,390.23 L281.0,391.15 L281.5,391.91 L282.0,392.62 L282.5,393.43 L283.0,394.14 L283.5,394.69 L284.0,395.41 L284.5,395.80 L285.0,396.34 L285.5,396.88 L286.0,397.43 L286.5,397.90 L287.0,398.34 L287.5,398.65 L288.0,398.89 L288.5,399.32 L289.0,399.70 L289.5,400.40 L290.0,400.93 L290.5,401.64 L291.0,402.15 L291.5,402.66 L292.0,402.98 L292.5,403.40 L293.0,403.61 L293.5,403.61 L294.0,403.74 L294.5,403.78 L295.0,403.99 L295.5,404.25 L296.0,404.97 L296.5,405.59 L297.0,406.25 L297.5,406.63 L298.0,406.90 L298.5,406.86 L299.0,406.75 L299.5,406.66 L300.0,406.66 L300.5,406.81 L301.0,406.95 L301.5,407.28 L302.0,407.79 L302.5,408.38 L303.0,408.93 L303.5,409.48 L304.0,410.06 L304.5,410.22 L305.0,410.08 L305.5,409.99 L306.0,409.90 L306.5,409.56 L307.0,409.48 L307.5,409.61 L308.0,409.98 L308.5,410.41 L309.0,410.83 L309.5,411.40 L310.0,411.80 L310.5,412.06 L311.0,412.17 L311.5,412.32 L312.0,412.23 L312.5,412.20 L313.0,412.18 L313.5,412.17 L314.0,412.29 L314.5,412.52 L315.0,412.97 L315.5,413.28 L316.0,413.94 L316.5,414.45 L317.0,414.93 L317.5,415.07 L318.0,415.06 L318.5,414.80 L319.0,414.52 L319.5,414.19 L320.0,414.00 L320.5,414.13 L321.0,414.43 L321.5,414.90 L322.0,415.44 L322.5,416.17 L323.0,416.80 L323.5,417.28 L324.0,417.48 L324.5,417.54 L325.0,417.44 L325.5,417.21 L326.0,416.92 L326.5,416.79 L327.0,416.91 L327.5,417.05 L328.0,417.26 L328.5,417.72 L329.0,418.40 L329.5,418.86 L330.0,419.22 L330.5,419.65 L331.0,419.78 L331.5,419.59 L332.0,419.23 L332.5,419.06 L333.0,418.73 L333.5,418.66 L334.0,418.61 L334.5,418.86 L335.0,419.16 L335.5,419.74 L336.0,420.15 L336.5,420.75 L337.0,421.18 L337.5,421.55 L338.0,421.47 L338.5,421.43 L339.0,421.10 L339.5,420.79 L340.0,420.58 L340.5,420.42 L341.0,420.40 L341.5,420.64 L342.0,421.05 L342.5,421.41 L343.0,422.06 L343.5,422.44 L344.0,422.87 L344.5,423.17 L345.0,423.23 L345.5,423.04 L346.0,422.77 L346.5,422.30 L347.0,421.86 L347.5,421.67 L348.0,421.74 L348.5,421.80 L349.0,422.19 L349.5,422.62 L350.0,423.06 L350.5,423.39 L351.0,423.84 L351.5,424.00 L352.0,424.12 L352.5,424.15 L353.0,423.96 L353.5,423.87 L354.0,423.70 L354.5,423.42 L355.0,423.20 L355.5,423.28 L356.0,423.18 L356.5,423.28 L357.0,423.72 L357.5,424.16 L358.0,424.42 L358.5,424.79 L359.0,425.14 L359.5,425.28 L360.0,425.15 L360.5,424.97 L361.0,424.89 L361.5,424.62 L362.0,424.16 L362.5,423.93 L363.0,423.90 L363.5,423.94 L364.0,424.12 L364.5,424.51 L365.0,424.81 L365.5,425.42 L366.0,425.63 L366.5,425.98 L367.0,426.26 L367.5,426.48 L368.0,426.21 L368.5,426.00 L369.0,425.49 L369.5,425.00 L370.0,424.59 L370.5,424.36 L371.0,424.26 L371.5,424.53 L372.0,424.99 L372.5,425.20 L373.0,425.46 L373.5,425.98 L374.0,426.22 L374.5,426.25 L375.0,426.56 L375.5,426.72 L376.0,426.52 L376.5,426.34 L377.0,426.19 L377.5,426.02 L378.0,425.87 L378.5,425.75 L379.0,425.66 L379.5,425.47 L380.0,425.51 L380.5,425.55 L381.0,425.96 L381.5,426.43 L382.0,426.87 L382.5,427.13 L383.0,427.35 L383.5,427.31 L384.0,427.03 L384.5,426.97 L385.0,426.73 L385.5,426.62 L386.0,426.42 L386.5,426.24 L387.0,425.97 L387.5,426.04 L388.0,425.96 L388.5,425.96 L389.0,426.25 L389.5,426.57 L390.0,427.01 L390.5,427.36 L391.0,427.70 L391.5,427.69 L392.0,427.89 L392.5,427.69 L393.0,427.52 L393.5,427.30 L394.0,427.21 L394.5,426.91 L395.0,426.67 L395.5,426.50 L396.0,426.51 L396.5,426.42 L397.0,426.51 L397.5,426.75 L398.0,427.06 L398.5,427.38 L399.0,427.93 L399.5,428.21 L400.0,428.28 L400.5,428.40 L401.0,428.42 L401.5,428.27 L402.0,428.10 L402.5,428.04 L403.0,427.77 L403.5,427.29 L404.0,427.06 L404.5,426.90 L405.0,426.91 L405.5,427.14 L406.0,427.55 L406.5,427.96 L407.0,428.25 L407.5,428.56 L408.0,428.65 L408.5,428.78 L409.0,428.66 L409.5,428.74 L410.0,428.69 L410.5,428.55 L411.0,428.37 L411.5,428.32 L412.0,428.07 L412.5,427.85 L413.0,427.85 L413.5,427.86 L414.0,427.84 L414.5,428.18 L415.0,428.39 L415.5,428.59 L416.0,428.96 L416.5,429.24 L417.0,429.17 L417.5,429.13 L418.0,429.15 L418.5,428.92 L419.0,428.81 L419.5,428.65 L420.0,428.47 L420.5,428.34 L421.0,428.36 L421.5,428.27 L422.0,428.61 L422.5,428.99 L423.0,429.14 L423.5,429.17 L424.0,429.40 L424.5,429.31 L425.0,429.25 L425.5,429.36 L426.0,429.45 L426.5,429.25 L427.0,429.37 L427.5,429.21 L428.0,429.05 L428.5,429.00 L429.0,429.07 L429.5,428.89 L430.0,428.99 L430.5,428.93 L431.0,428.97 L431.5,429.13 L432.0,429.21 L432.5,429.38 L433.0,429.69 L433.5,429.72 L434.0,429.76 L434.5,429.80 L435.0,429.75 L435.5,429.53 L436.0,429.33 L436.5,429.23 L437.0,429.17 L437.5,429.03 L438.0,428.94 L438.5,429.01 L439.0,429.01 L439.5,429.04 L440.0,429.04 L440.5,429.21 L441.0,429.40 L441.5,429.39 L442.0,429.42 L442.5,429.43 L443.0,429.47 L443.5,429.34 L444.0,429.29 L444.5,429.27 L445.0,429.25 L445.5,429.07 L446.0,429.12 L446.5,429.01 L447.0,428.88 L447.5,428.96 L448.0,429.09 L448.5,429.21 L449.0,429.44 L449.5,429.63 L450.0,429.72 L450.5,429.68 L451.0,429.43 L451.5,429.38 L452.0,429.20 L452.5,429.05 L453.0,428.93 L453.5,428.96 L454.0,428.85 L454.5,428.87 L455.0,428.86 L455.5,429.07 L456.0,429.20 L456.5,429.39 L457.0,429.48 L457.5,429.52 L458.0,429.40 L458.5,429.29 L459.0,429.16 L459.5,429.10 L460.0,429.08 L460.5,429.16 L461.0,429.21 L461.5,429.18 L462.0,429.16 L462.5,429.33 L463.0,429.41 L463.5,429.28 L464.0,429.43 L464.5,429.67 L465.0,429.57 L465.5,429.56 L466.0,429.72 L466.5,429.65 L467.0,429.46 L467.5,429.42 L468.0,429.30 L468.5,429.31 L469.0,429.25 L469.5,429.36 L470.0,429.39 L470.5,429.37 L471.0,429.48 L471.5,429.64 L472.0,429.60 L472.5,429.76 L473.0,429.84 L473.5,429.80 L474.0,429.65 L474.5,429.62 L475.0,429.46 L475.5,429.51 L476.0,429.41 L476.5,429.39 L477.0,429.61 L477.5,429.71 L478.0,429.95 L478.5,430.11 L479.0,430.17 L479.5,430.10 L480.0,430.12 L480.5,429.88 L481.0,429.75 L481.5,429.78 L482.0,429.56 L482.5,429.35 L483.0,429.32 L483.5,429.48 L484.0,429.38 L484.5,429.64 L485.0,429.86 L485.5,429.91 L486.0,429.92 L486.5,430.09 L487.0,430.02 L487.5,430.00 L488.0,429.99 L488.5,429.95 L489.0,429.96 L489.5,429.88 L490.0,429.87 L490.5,429.77 L491.0,429.77 L491.5,429.72 L492.0,429.84 L492.5,429.91 L493.0,430.12 L493.5,430.08 L494.0,430.29 L494.5,430.22 L495.0,430.00 L495.5,430.02 L496.0,430.00 L496.5,429.82 L497.0,429.96 L497.5,430.16 L498.0,430.28 L498.5,430.58 L499.0,430.80 L499.5,430.79 L500.0,430.78 L500.5,430.63 L501.0,430.44 L501.5,430.26 L502.0,430.17 L502.5,430.28 L503.0,430.26 L503.5,430.18 L504.0,430.17 L504.5,430.32 L505.0,430.47 L505.5,430.56 L506.0,430.65 L506.5,430.67 L507.0,430.64 L507.5,430.28 L508.0,430.09 L508.5,430.13 L509.0,430.12 L509.5,430.06 L510.0,430.38 L510.5,430.67 L511.0,430.73 L511.5,430.98 L512.0,430.91 L512.5,430.73 L513.0,430.58 L513.5,430.36 L514.0,430.08 L514.5,430.04 L515.0,430.04 L515.5,429.95 L516.0,430.16 L516.5,430.32 L517.0,430.63 L517.5,430.65 L518.0,430.67 L518.5,430.64 L519.0,430.62 L519.5,430.50 L520.0,430.57 L520.5,430.55 L521.0,430.53 L521.5,430.44 L522.0,430.36 L522.5,430.43 L523.0,430.65 L523.5,430.73 L524.0,430.89 L524.5,431.18 L525.0,431.13 L525.5,431.04 L526.0,430.95 L526.5,430.77 L527.0,430.58 L527.5,430.62 L528.0,430.60 L528.5,430.46 L529.0,430.45 L529.5,430.48 L530.0,430.43 L530.5,430.46 L531.0,430.66 L531.5,430.76 L532.0,430.67 L532.5,430.62 L533.0,430.57 L533.5,430.48 L534.0,430.45 L534.5,430.24 L535.0,430.23 L535.5,430.39 L536.0,430.60 L536.5,430.86 L537.0,431.12 L537.5,431.19 L538.0,431.07 L538.5,431.00 L539.0,430.75 L539.5,430.70 L540.0,430.62 L540.5,430.56 L541.0,430.40 L541.5,430.51 L542.0,430.34 L542.5,430.47 L543.0,430.54 L543.5,430.71 L544.0,430.79 L544.5,430.99 L545.0,431.01 L545.5,430.97 L546.0,430.83" fill="none" stroke="#4a5b5e" stroke-width="1.85" stroke-linejoin="round"/>
<rect x="56.6" y="13.1" width="490.0" height="435.9" fill="none" stroke="#111" stroke-width="2.2"/>
<path d="M66.4,13.1v5.9 M66.4,449.0v-5.9 M76.2,13.1v5.9 M76.2,449.0v-5.9 M86.0,13.1v5.9 M86.0,449.0v-5.9 M95.8,13.1v5.9 M95.8,449.0v-5.9 M105.6,13.1v8.4 M105.6,449.0v-8.4 M115.4,13.1v5.9 M115.4,449.0v-5.9 M125.2,13.1v5.9 M125.2,449.0v-5.9 M135.0,13.1v5.9 M135.0,449.0v-5.9 M144.8,13.1v5.9 M144.8,449.0v-5.9 M154.6,13.1v8.4 M154.6,449.0v-8.4 M164.4,13.1v5.9 M164.4,449.0v-5.9 M174.2,13.1v5.9 M174.2,449.0v-5.9 M184.0,13.1v5.9 M184.0,449.0v-5.9 M193.8,13.1v5.9 M193.8,449.0v-5.9 M203.6,13.1v8.4 M203.6,449.0v-8.4 M213.4,13.1v5.9 M213.4,449.0v-5.9 M223.2,13.1v5.9 M223.2,449.0v-5.9 M233.0,13.1v5.9 M233.0,449.0v-5.9 M242.8,13.1v5.9 M242.8,449.0v-5.9 M252.6,13.1v8.4 M252.6,449.0v-8.4 M262.4,13.1v5.9 M262.4,449.0v-5.9 M272.2,13.1v5.9 M272.2,449.0v-5.9 M282.0,13.1v5.9 M282.0,449.0v-5.9 M291.8,13.1v5.9 M291.8,449.0v-5.9 M301.6,13.1v8.4 M301.6,449.0v-8.4 M311.4,13.1v5.9 M311.4,449.0v-5.9 M321.2,13.1v5.9 M321.2,449.0v-5.9 M331.0,13.1v5.9 M331.0,449.0v-5.9 M340.8,13.1v5.9 M340.8,449.0v-5.9 M350.6,13.1v8.4 M350.6,449.0v-8.4 M360.4,13.1v5.9 M360.4,449.0v-5.9 M370.2,13.1v5.9 M370.2,449.0v-5.9 M380.0,13.1v5.9 M380.0,449.0v-5.9 M389.8,13.1v5.9 M389.8,449.0v-5.9 M399.6,13.1v8.4 M399.6,449.0v-8.4 M409.4,13.1v5.9 M409.4,449.0v-5.9 M419.2,13.1v5.9 M419.2,449.0v-5.9 M429.0,13.1v5.9 M429.0,449.0v-5.9 M438.8,13.1v5.9 M438.8,449.0v-5.9 M448.6,13.1v8.4 M448.6,449.0v-8.4 M458.4,13.1v5.9 M458.4,449.0v-5.9 M468.2,13.1v5.9 M468.2,449.0v-5.9 M478.0,13.1v5.9 M478.0,449.0v-5.9 M487.8,13.1v5.9 M487.8,449.0v-5.9 M497.6,13.1v8.4 M497.6,449.0v-8.4 M507.4,13.1v5.9 M507.4,449.0v-5.9 M517.2,13.1v5.9 M517.2,449.0v-5.9 M527.0,13.1v5.9 M527.0,449.0v-5.9 M536.8,13.1v5.9 M536.8,449.0v-5.9" stroke="#111" stroke-width="2.3"/>
<text transform="translate(56.3,474) scale(1.06,1)" text-anchor="middle" font-size="17.3" font-weight="bold" fill="#111">2300</text>
<text transform="translate(154.3,474) scale(1.06,1)" text-anchor="middle" font-size="17.3" font-weight="bold" fill="#111">2320</text>
<text transform="translate(252.3,474) scale(1.06,1)" text-anchor="middle" font-size="17.3" font-weight="bold" fill="#111">2340</text>
<text transform="translate(350.3,474) scale(1.06,1)" text-anchor="middle" font-size="17.3" font-weight="bold" fill="#111">2360</text>
<text transform="translate(448.3,474) scale(1.06,1)" text-anchor="middle" font-size="17.3" font-weight="bold" fill="#111">2380</text>
<text transform="translate(546.3,474) scale(1.06,1)" text-anchor="middle" font-size="17.3" font-weight="bold" fill="#111">2400</text>
<text x="203.2" y="508.7" font-size="24.4" font-weight="bold" letter-spacing="0.45" word-spacing="0.3" fill="#111">Frequency (cm<tspan font-size="12" dy="-13" dx="0.5">-1</tspan><tspan dy="13" dx="0.3">)</tspan></text>
<text transform="translate(30.6,303.3) rotate(-90)" font-size="24.6" font-weight="bold" letter-spacing="0.25" fill="#111">Absorbance</text>
<path d="M98.5,59.7V88.9M94,59.7H103.8M93.5,88.9H104" stroke="#222" stroke-width="1.8" fill="none"/>
<text transform="translate(107.4,80.4)" font-size="18.4" font-weight="bold" fill="#111">0.</text>
<path d="M127.5,66.9H130.7V80.4H127.4V71.4Q126,72.5 124.2,73.0V70.7Q126.2,69.6 127.5,66.9Z" fill="#111"/>
<text transform="translate(417.6,143.3) scale(1.066,1)" font-size="15.7" fill="#50a4d8"><tspan dy="1.8">O=C=O</tspan><tspan font-weight="bold" font-size="18" letter-spacing="-0.55" dy="-1.5">···</tspan><tspan fill="#424242" dx="1.2" dy="-0.3">Mg</tspan><tspan fill="#424242" font-size="10" dy="4.9">2</tspan><tspan fill="#424242" stroke="#424242" stroke-width="0.45" dy="-4.9" dx="0.5">L</tspan></text>
<text transform="translate(417.6,265.7) scale(1.066,1)" font-size="15.7" fill="#c4ac80"><tspan dy="1.8">O=C=O</tspan><tspan font-weight="bold" font-size="18" letter-spacing="-0.55" dy="-1.5">···</tspan><tspan fill="#424242" dx="1.2" dy="-0.3">Mn</tspan><tspan fill="#424242" font-size="10" dy="4.9">2</tspan><tspan fill="#424242" stroke="#424242" stroke-width="0.45" dy="-4.9" dx="0.5">L</tspan></text>
<text transform="translate(417.6,299.3) scale(1.066,1)" font-size="15.7" fill="#6a2865"><tspan dy="1.8">O=C=O</tspan><tspan font-weight="bold" font-size="18" letter-spacing="-0.55" dy="-1.5">···</tspan><tspan fill="#424242" dx="1.2" dy="-0.3">Fe</tspan><tspan fill="#424242" font-size="10" dy="4.9">2</tspan><tspan fill="#424242" stroke="#424242" stroke-width="0.45" dy="-4.9" dx="0.5">L</tspan></text>
<text transform="translate(417.6,338.6) scale(1.066,1)" font-size="15.7" fill="#e2625f"><tspan dy="1.8">O=C=O</tspan><tspan font-weight="bold" font-size="18" letter-spacing="-0.55" dy="-1.5">···</tspan><tspan fill="#424242" dx="1.2" dy="-0.3">Co</tspan><tspan fill="#424242" font-size="10" dy="4.9">2</tspan><tspan fill="#424242" stroke="#424242" stroke-width="0.45" dy="-4.9" dx="0.5">L</tspan></text>
<text transform="translate(417.6,377.9) scale(1.066,1)" font-size="15.7" fill="#5cb46e"><tspan dy="1.8">O=C=O</tspan><tspan font-weight="bold" font-size="18" letter-spacing="-0.55" dy="-1.5">···</tspan><tspan fill="#424242" dx="1.2" dy="-0.3">Ni</tspan><tspan fill="#424242" font-size="10" dy="4.9">2</tspan><tspan fill="#424242" stroke="#424242" stroke-width="0.45" dy="-4.9" dx="0.5">L</tspan></text>
<text transform="translate(417.6,422.3) scale(1.066,1)" font-size="15.7" fill="#4a5b5e"><tspan dy="1.8">O=C=O</tspan><tspan font-weight="bold" font-size="18" letter-spacing="-0.55" dy="-1.5">···</tspan><tspan fill="#424242" dx="1.2" dy="-0.3">Zn</tspan><tspan fill="#424242" font-size="10" dy="4.9">2</tspan><tspan fill="#424242" stroke="#424242" stroke-width="0.45" dy="-4.9" dx="0.5">L</tspan></text>
</svg>
</body></html>
